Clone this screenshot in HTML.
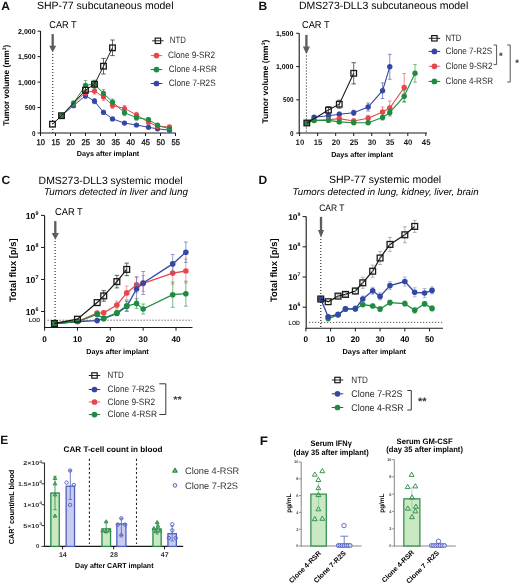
<!DOCTYPE html>
<html><head><meta charset="utf-8"><style>
html,body{margin:0;padding:0;background:#fff;}
svg{display:block;filter:blur(0.3px);font-family:"Liberation Sans", sans-serif;text-rendering:geometricPrecision;}
</style></head><body>
<svg width="520" height="584" viewBox="0 0 520 584">
<rect width="520" height="584" fill="#fff"/>
<text x="1.3" y="10.3" font-size="12" font-weight="bold" fill="#111">A</text>
<text x="36.9" y="9" font-size="10.5" textLength="136.6" lengthAdjust="spacingAndGlyphs">SHP-77 subcutaneous model</text>
<text x="49.3" y="28.2" font-size="9.9" textLength="27.4" lengthAdjust="spacingAndGlyphs">CAR T</text>
<rect x="51.55" y="34.1" width="2.3" height="12.1" fill="#5e5b58"/>
<polygon points="49.25,45.7 56.15,45.7 52.7,52.6" fill="#5e5b58"/>
<line x1="52.7" y1="54" x2="52.7" y2="133" stroke="#222" stroke-width="1.1" stroke-dasharray="1 2"/>
<line x1="40.5" y1="31" x2="40.5" y2="133.5" stroke="#1a1a1a" stroke-width="1.1"/>
<line x1="40" y1="133" x2="175.5" y2="133" stroke="#1a1a1a" stroke-width="1.1"/>
<line x1="37.5" y1="133" x2="40.5" y2="133" stroke="#1a1a1a" stroke-width="1"/>
<text x="35.6" y="135.5" font-size="7" font-weight="bold" text-anchor="end" textLength="3.5" lengthAdjust="spacingAndGlyphs">0</text>
<line x1="37.5" y1="107.55" x2="40.5" y2="107.55" stroke="#1a1a1a" stroke-width="1"/>
<text x="35.6" y="110.05" font-size="7" font-weight="bold" text-anchor="end" textLength="10.5" lengthAdjust="spacingAndGlyphs">500</text>
<line x1="37.5" y1="82.1" x2="40.5" y2="82.1" stroke="#1a1a1a" stroke-width="1"/>
<text x="35.6" y="84.6" font-size="7" font-weight="bold" text-anchor="end" textLength="17.5" lengthAdjust="spacingAndGlyphs">1,000</text>
<line x1="37.5" y1="56.65" x2="40.5" y2="56.65" stroke="#1a1a1a" stroke-width="1"/>
<text x="35.6" y="59.15" font-size="7" font-weight="bold" text-anchor="end" textLength="17.5" lengthAdjust="spacingAndGlyphs">1,500</text>
<line x1="37.5" y1="31.2" x2="40.5" y2="31.2" stroke="#1a1a1a" stroke-width="1"/>
<text x="35.6" y="33.7" font-size="7" font-weight="bold" text-anchor="end" textLength="17.5" lengthAdjust="spacingAndGlyphs">2,000</text>
<line x1="40.5" y1="133" x2="40.5" y2="136" stroke="#1a1a1a" stroke-width="1"/>
<text x="40.8" y="144.6" font-size="8.2" text-anchor="middle" textLength="8.4" lengthAdjust="spacingAndGlyphs" fill="#1a1a1a" stroke="#1a1a1a" stroke-width="0.35">10</text>
<line x1="55.5" y1="133" x2="55.5" y2="136" stroke="#1a1a1a" stroke-width="1"/>
<text x="55.8" y="144.6" font-size="8.2" text-anchor="middle" textLength="8.4" lengthAdjust="spacingAndGlyphs" fill="#1a1a1a" stroke="#1a1a1a" stroke-width="0.35">15</text>
<line x1="70.5" y1="133" x2="70.5" y2="136" stroke="#1a1a1a" stroke-width="1"/>
<text x="70.8" y="144.6" font-size="8.2" text-anchor="middle" textLength="8.4" lengthAdjust="spacingAndGlyphs" fill="#1a1a1a" stroke="#1a1a1a" stroke-width="0.35">20</text>
<line x1="85.5" y1="133" x2="85.5" y2="136" stroke="#1a1a1a" stroke-width="1"/>
<text x="85.8" y="144.6" font-size="8.2" text-anchor="middle" textLength="8.4" lengthAdjust="spacingAndGlyphs" fill="#1a1a1a" stroke="#1a1a1a" stroke-width="0.35">25</text>
<line x1="100.5" y1="133" x2="100.5" y2="136" stroke="#1a1a1a" stroke-width="1"/>
<text x="100.8" y="144.6" font-size="8.2" text-anchor="middle" textLength="8.4" lengthAdjust="spacingAndGlyphs" fill="#1a1a1a" stroke="#1a1a1a" stroke-width="0.35">30</text>
<line x1="115.5" y1="133" x2="115.5" y2="136" stroke="#1a1a1a" stroke-width="1"/>
<text x="115.8" y="144.6" font-size="8.2" text-anchor="middle" textLength="8.4" lengthAdjust="spacingAndGlyphs" fill="#1a1a1a" stroke="#1a1a1a" stroke-width="0.35">35</text>
<line x1="130.5" y1="133" x2="130.5" y2="136" stroke="#1a1a1a" stroke-width="1"/>
<text x="130.8" y="144.6" font-size="8.2" text-anchor="middle" textLength="8.4" lengthAdjust="spacingAndGlyphs" fill="#1a1a1a" stroke="#1a1a1a" stroke-width="0.35">40</text>
<line x1="145.5" y1="133" x2="145.5" y2="136" stroke="#1a1a1a" stroke-width="1"/>
<text x="145.8" y="144.6" font-size="8.2" text-anchor="middle" textLength="8.4" lengthAdjust="spacingAndGlyphs" fill="#1a1a1a" stroke="#1a1a1a" stroke-width="0.35">45</text>
<line x1="160.5" y1="133" x2="160.5" y2="136" stroke="#1a1a1a" stroke-width="1"/>
<text x="160.8" y="144.6" font-size="8.2" text-anchor="middle" textLength="8.4" lengthAdjust="spacingAndGlyphs" fill="#1a1a1a" stroke="#1a1a1a" stroke-width="0.35">50</text>
<line x1="175.5" y1="133" x2="175.5" y2="136" stroke="#1a1a1a" stroke-width="1"/>
<text x="175.8" y="144.6" font-size="8.2" text-anchor="middle" textLength="8.4" lengthAdjust="spacingAndGlyphs" fill="#1a1a1a" stroke="#1a1a1a" stroke-width="0.35">55</text>
<text x="108" y="155.8" font-size="7.2" font-weight="bold" text-anchor="middle" textLength="62.4" lengthAdjust="spacingAndGlyphs">Days after implant</text>
<text x="9.4" y="85.2" font-size="8.2" font-weight="bold" text-anchor="middle" transform="rotate(-90 9.4 85.2)">Tumor volume (mm<tspan font-size="5" dy="-3">3</tspan><tspan dy="3">)</tspan></text>
<polyline points="61.5,115.7 73.5,105.7 85.5,95.7 94.5,101.2 103.5,112.3 112.5,118.9 124.5,123.1 136.5,125 148.5,127.3 157.5,128.8 169.5,130.2" fill="none" stroke="#3447a3" stroke-width="1"/>
<g stroke="#3447a3" stroke-width="0.75" opacity="0.8">
<line x1="73.5" y1="104.2" x2="73.5" y2="107.2" stroke="#3447a3" stroke-width="0.75"/>
<line x1="71.7" y1="104.2" x2="75.3" y2="104.2" stroke="#3447a3" stroke-width="0.75"/>
<line x1="71.7" y1="107.2" x2="75.3" y2="107.2" stroke="#3447a3" stroke-width="0.75"/>
</g>
<g stroke="#3447a3" stroke-width="0.75" opacity="0.8">
<line x1="85.5" y1="92.7" x2="85.5" y2="98.7" stroke="#3447a3" stroke-width="0.75"/>
<line x1="83.7" y1="92.7" x2="87.3" y2="92.7" stroke="#3447a3" stroke-width="0.75"/>
<line x1="83.7" y1="98.7" x2="87.3" y2="98.7" stroke="#3447a3" stroke-width="0.75"/>
</g>
<g stroke="#3447a3" stroke-width="0.75" opacity="0.8">
<line x1="94.5" y1="98.7" x2="94.5" y2="103.7" stroke="#3447a3" stroke-width="0.75"/>
<line x1="92.7" y1="98.7" x2="96.3" y2="98.7" stroke="#3447a3" stroke-width="0.75"/>
<line x1="92.7" y1="103.7" x2="96.3" y2="103.7" stroke="#3447a3" stroke-width="0.75"/>
</g>
<g stroke="#3447a3" stroke-width="0.75" opacity="0.8">
<line x1="103.5" y1="110.3" x2="103.5" y2="114.3" stroke="#3447a3" stroke-width="0.75"/>
<line x1="101.7" y1="110.3" x2="105.3" y2="110.3" stroke="#3447a3" stroke-width="0.75"/>
<line x1="101.7" y1="114.3" x2="105.3" y2="114.3" stroke="#3447a3" stroke-width="0.75"/>
</g>
<g stroke="#3447a3" stroke-width="0.75" opacity="0.8">
<line x1="112.5" y1="117.4" x2="112.5" y2="120.4" stroke="#3447a3" stroke-width="0.75"/>
<line x1="110.7" y1="117.4" x2="114.3" y2="117.4" stroke="#3447a3" stroke-width="0.75"/>
<line x1="110.7" y1="120.4" x2="114.3" y2="120.4" stroke="#3447a3" stroke-width="0.75"/>
</g>
<g stroke="#3447a3" stroke-width="0.75" opacity="0.8">
<line x1="124.5" y1="121.6" x2="124.5" y2="124.6" stroke="#3447a3" stroke-width="0.75"/>
<line x1="122.7" y1="121.6" x2="126.3" y2="121.6" stroke="#3447a3" stroke-width="0.75"/>
<line x1="122.7" y1="124.6" x2="126.3" y2="124.6" stroke="#3447a3" stroke-width="0.75"/>
</g>
<g stroke="#3447a3" stroke-width="0.75" opacity="0.8">
<line x1="136.5" y1="123.8" x2="136.5" y2="126.2" stroke="#3447a3" stroke-width="0.75"/>
<line x1="134.7" y1="123.8" x2="138.3" y2="123.8" stroke="#3447a3" stroke-width="0.75"/>
<line x1="134.7" y1="126.2" x2="138.3" y2="126.2" stroke="#3447a3" stroke-width="0.75"/>
</g>
<g stroke="#3447a3" stroke-width="0.75" opacity="0.8">
<line x1="148.5" y1="126.1" x2="148.5" y2="128.5" stroke="#3447a3" stroke-width="0.75"/>
<line x1="146.7" y1="126.1" x2="150.3" y2="126.1" stroke="#3447a3" stroke-width="0.75"/>
<line x1="146.7" y1="128.5" x2="150.3" y2="128.5" stroke="#3447a3" stroke-width="0.75"/>
</g>
<g stroke="#3447a3" stroke-width="0.75" opacity="0.8">
<line x1="157.5" y1="127.8" x2="157.5" y2="129.8" stroke="#3447a3" stroke-width="0.75"/>
<line x1="155.7" y1="127.8" x2="159.3" y2="127.8" stroke="#3447a3" stroke-width="0.75"/>
<line x1="155.7" y1="129.8" x2="159.3" y2="129.8" stroke="#3447a3" stroke-width="0.75"/>
</g>
<g stroke="#3447a3" stroke-width="0.75" opacity="0.8">
<line x1="169.5" y1="129.2" x2="169.5" y2="131.2" stroke="#3447a3" stroke-width="0.75"/>
<line x1="167.7" y1="129.2" x2="171.3" y2="129.2" stroke="#3447a3" stroke-width="0.75"/>
<line x1="167.7" y1="131.2" x2="171.3" y2="131.2" stroke="#3447a3" stroke-width="0.75"/>
</g>
<circle cx="61.5" cy="115.7" r="2.6" fill="#3447a3"/>
<circle cx="73.5" cy="105.7" r="2.6" fill="#3447a3"/>
<circle cx="85.5" cy="95.7" r="2.6" fill="#3447a3"/>
<circle cx="94.5" cy="101.2" r="2.6" fill="#3447a3"/>
<circle cx="103.5" cy="112.3" r="2.6" fill="#3447a3"/>
<circle cx="112.5" cy="118.9" r="2.6" fill="#3447a3"/>
<circle cx="124.5" cy="123.1" r="2.6" fill="#3447a3"/>
<circle cx="136.5" cy="125" r="2.6" fill="#3447a3"/>
<circle cx="148.5" cy="127.3" r="2.6" fill="#3447a3"/>
<circle cx="157.5" cy="128.8" r="2.6" fill="#3447a3"/>
<circle cx="169.5" cy="130.2" r="2.6" fill="#3447a3"/>
<polyline points="61.5,115.7 73.5,103.8 85.5,92.4 94.5,91.1 103.5,96.9 112.5,105.4 124.5,108.5 136.5,114.8 148.5,122.2 157.5,126.5 169.5,126.9" fill="none" stroke="#e8464d" stroke-width="1"/>
<g stroke="#e8464d" stroke-width="0.75" opacity="0.8">
<line x1="73.5" y1="102.3" x2="73.5" y2="105.3" stroke="#e8464d" stroke-width="0.75"/>
<line x1="71.7" y1="102.3" x2="75.3" y2="102.3" stroke="#e8464d" stroke-width="0.75"/>
<line x1="71.7" y1="105.3" x2="75.3" y2="105.3" stroke="#e8464d" stroke-width="0.75"/>
</g>
<g stroke="#e8464d" stroke-width="0.75" opacity="0.8">
<line x1="85.5" y1="89.4" x2="85.5" y2="95.4" stroke="#e8464d" stroke-width="0.75"/>
<line x1="83.7" y1="89.4" x2="87.3" y2="89.4" stroke="#e8464d" stroke-width="0.75"/>
<line x1="83.7" y1="95.4" x2="87.3" y2="95.4" stroke="#e8464d" stroke-width="0.75"/>
</g>
<g stroke="#e8464d" stroke-width="0.75" opacity="0.8">
<line x1="94.5" y1="88.1" x2="94.5" y2="94.1" stroke="#e8464d" stroke-width="0.75"/>
<line x1="92.7" y1="88.1" x2="96.3" y2="88.1" stroke="#e8464d" stroke-width="0.75"/>
<line x1="92.7" y1="94.1" x2="96.3" y2="94.1" stroke="#e8464d" stroke-width="0.75"/>
</g>
<g stroke="#e8464d" stroke-width="0.75" opacity="0.8">
<line x1="103.5" y1="93.4" x2="103.5" y2="100.4" stroke="#e8464d" stroke-width="0.75"/>
<line x1="101.7" y1="93.4" x2="105.3" y2="93.4" stroke="#e8464d" stroke-width="0.75"/>
<line x1="101.7" y1="100.4" x2="105.3" y2="100.4" stroke="#e8464d" stroke-width="0.75"/>
</g>
<g stroke="#e8464d" stroke-width="0.75" opacity="0.8">
<line x1="112.5" y1="102.4" x2="112.5" y2="108.4" stroke="#e8464d" stroke-width="0.75"/>
<line x1="110.7" y1="102.4" x2="114.3" y2="102.4" stroke="#e8464d" stroke-width="0.75"/>
<line x1="110.7" y1="108.4" x2="114.3" y2="108.4" stroke="#e8464d" stroke-width="0.75"/>
</g>
<g stroke="#e8464d" stroke-width="0.75" opacity="0.8">
<line x1="124.5" y1="105.5" x2="124.5" y2="111.5" stroke="#e8464d" stroke-width="0.75"/>
<line x1="122.7" y1="105.5" x2="126.3" y2="105.5" stroke="#e8464d" stroke-width="0.75"/>
<line x1="122.7" y1="111.5" x2="126.3" y2="111.5" stroke="#e8464d" stroke-width="0.75"/>
</g>
<g stroke="#e8464d" stroke-width="0.75" opacity="0.8">
<line x1="136.5" y1="112.3" x2="136.5" y2="117.3" stroke="#e8464d" stroke-width="0.75"/>
<line x1="134.7" y1="112.3" x2="138.3" y2="112.3" stroke="#e8464d" stroke-width="0.75"/>
<line x1="134.7" y1="117.3" x2="138.3" y2="117.3" stroke="#e8464d" stroke-width="0.75"/>
</g>
<g stroke="#e8464d" stroke-width="0.75" opacity="0.8">
<line x1="148.5" y1="120.2" x2="148.5" y2="124.2" stroke="#e8464d" stroke-width="0.75"/>
<line x1="146.7" y1="120.2" x2="150.3" y2="120.2" stroke="#e8464d" stroke-width="0.75"/>
<line x1="146.7" y1="124.2" x2="150.3" y2="124.2" stroke="#e8464d" stroke-width="0.75"/>
</g>
<g stroke="#e8464d" stroke-width="0.75" opacity="0.8">
<line x1="157.5" y1="125" x2="157.5" y2="128" stroke="#e8464d" stroke-width="0.75"/>
<line x1="155.7" y1="125" x2="159.3" y2="125" stroke="#e8464d" stroke-width="0.75"/>
<line x1="155.7" y1="128" x2="159.3" y2="128" stroke="#e8464d" stroke-width="0.75"/>
</g>
<g stroke="#e8464d" stroke-width="0.75" opacity="0.8">
<line x1="169.5" y1="125.4" x2="169.5" y2="128.4" stroke="#e8464d" stroke-width="0.75"/>
<line x1="167.7" y1="125.4" x2="171.3" y2="125.4" stroke="#e8464d" stroke-width="0.75"/>
<line x1="167.7" y1="128.4" x2="171.3" y2="128.4" stroke="#e8464d" stroke-width="0.75"/>
</g>
<circle cx="61.5" cy="115.7" r="2.6" fill="#e8464d"/>
<circle cx="73.5" cy="103.8" r="2.6" fill="#e8464d"/>
<circle cx="85.5" cy="92.4" r="2.6" fill="#e8464d"/>
<circle cx="94.5" cy="91.1" r="2.6" fill="#e8464d"/>
<circle cx="103.5" cy="96.9" r="2.6" fill="#e8464d"/>
<circle cx="112.5" cy="105.4" r="2.6" fill="#e8464d"/>
<circle cx="124.5" cy="108.5" r="2.6" fill="#e8464d"/>
<circle cx="136.5" cy="114.8" r="2.6" fill="#e8464d"/>
<circle cx="148.5" cy="122.2" r="2.6" fill="#e8464d"/>
<circle cx="157.5" cy="126.5" r="2.6" fill="#e8464d"/>
<circle cx="169.5" cy="126.9" r="2.6" fill="#e8464d"/>
<polyline points="61.5,115.7 73.5,103.1 85.5,85.4 94.5,84.2 103.5,93.4 112.5,102 124.5,112.7 136.5,117.7 148.5,119.6 157.5,125.2 169.5,128.9" fill="none" stroke="#1e8c40" stroke-width="1"/>
<g stroke="#1e8c40" stroke-width="0.75" opacity="0.8">
<line x1="73.5" y1="101.1" x2="73.5" y2="105.1" stroke="#1e8c40" stroke-width="0.75"/>
<line x1="71.7" y1="101.1" x2="75.3" y2="101.1" stroke="#1e8c40" stroke-width="0.75"/>
<line x1="71.7" y1="105.1" x2="75.3" y2="105.1" stroke="#1e8c40" stroke-width="0.75"/>
</g>
<g stroke="#1e8c40" stroke-width="0.75" opacity="0.8">
<line x1="85.5" y1="80.4" x2="85.5" y2="90.4" stroke="#1e8c40" stroke-width="0.75"/>
<line x1="83.7" y1="80.4" x2="87.3" y2="80.4" stroke="#1e8c40" stroke-width="0.75"/>
<line x1="83.7" y1="90.4" x2="87.3" y2="90.4" stroke="#1e8c40" stroke-width="0.75"/>
</g>
<g stroke="#1e8c40" stroke-width="0.75" opacity="0.8">
<line x1="94.5" y1="80.2" x2="94.5" y2="88.2" stroke="#1e8c40" stroke-width="0.75"/>
<line x1="92.7" y1="80.2" x2="96.3" y2="80.2" stroke="#1e8c40" stroke-width="0.75"/>
<line x1="92.7" y1="88.2" x2="96.3" y2="88.2" stroke="#1e8c40" stroke-width="0.75"/>
</g>
<g stroke="#1e8c40" stroke-width="0.75" opacity="0.8">
<line x1="103.5" y1="89.4" x2="103.5" y2="97.4" stroke="#1e8c40" stroke-width="0.75"/>
<line x1="101.7" y1="89.4" x2="105.3" y2="89.4" stroke="#1e8c40" stroke-width="0.75"/>
<line x1="101.7" y1="97.4" x2="105.3" y2="97.4" stroke="#1e8c40" stroke-width="0.75"/>
</g>
<g stroke="#1e8c40" stroke-width="0.75" opacity="0.8">
<line x1="112.5" y1="99" x2="112.5" y2="105" stroke="#1e8c40" stroke-width="0.75"/>
<line x1="110.7" y1="99" x2="114.3" y2="99" stroke="#1e8c40" stroke-width="0.75"/>
<line x1="110.7" y1="105" x2="114.3" y2="105" stroke="#1e8c40" stroke-width="0.75"/>
</g>
<g stroke="#1e8c40" stroke-width="0.75" opacity="0.8">
<line x1="124.5" y1="109.7" x2="124.5" y2="115.7" stroke="#1e8c40" stroke-width="0.75"/>
<line x1="122.7" y1="109.7" x2="126.3" y2="109.7" stroke="#1e8c40" stroke-width="0.75"/>
<line x1="122.7" y1="115.7" x2="126.3" y2="115.7" stroke="#1e8c40" stroke-width="0.75"/>
</g>
<g stroke="#1e8c40" stroke-width="0.75" opacity="0.8">
<line x1="136.5" y1="115.2" x2="136.5" y2="120.2" stroke="#1e8c40" stroke-width="0.75"/>
<line x1="134.7" y1="115.2" x2="138.3" y2="115.2" stroke="#1e8c40" stroke-width="0.75"/>
<line x1="134.7" y1="120.2" x2="138.3" y2="120.2" stroke="#1e8c40" stroke-width="0.75"/>
</g>
<g stroke="#1e8c40" stroke-width="0.75" opacity="0.8">
<line x1="148.5" y1="117.6" x2="148.5" y2="121.6" stroke="#1e8c40" stroke-width="0.75"/>
<line x1="146.7" y1="117.6" x2="150.3" y2="117.6" stroke="#1e8c40" stroke-width="0.75"/>
<line x1="146.7" y1="121.6" x2="150.3" y2="121.6" stroke="#1e8c40" stroke-width="0.75"/>
</g>
<g stroke="#1e8c40" stroke-width="0.75" opacity="0.8">
<line x1="157.5" y1="123.7" x2="157.5" y2="126.7" stroke="#1e8c40" stroke-width="0.75"/>
<line x1="155.7" y1="123.7" x2="159.3" y2="123.7" stroke="#1e8c40" stroke-width="0.75"/>
<line x1="155.7" y1="126.7" x2="159.3" y2="126.7" stroke="#1e8c40" stroke-width="0.75"/>
</g>
<g stroke="#1e8c40" stroke-width="0.75" opacity="0.8">
<line x1="169.5" y1="127.4" x2="169.5" y2="130.4" stroke="#1e8c40" stroke-width="0.75"/>
<line x1="167.7" y1="127.4" x2="171.3" y2="127.4" stroke="#1e8c40" stroke-width="0.75"/>
<line x1="167.7" y1="130.4" x2="171.3" y2="130.4" stroke="#1e8c40" stroke-width="0.75"/>
</g>
<circle cx="61.5" cy="115.7" r="2.6" fill="#1e8c40"/>
<circle cx="73.5" cy="103.1" r="2.6" fill="#1e8c40"/>
<circle cx="85.5" cy="85.4" r="2.6" fill="#1e8c40"/>
<circle cx="94.5" cy="84.2" r="2.6" fill="#1e8c40"/>
<circle cx="103.5" cy="93.4" r="2.6" fill="#1e8c40"/>
<circle cx="112.5" cy="102" r="2.6" fill="#1e8c40"/>
<circle cx="124.5" cy="112.7" r="2.6" fill="#1e8c40"/>
<circle cx="136.5" cy="117.7" r="2.6" fill="#1e8c40"/>
<circle cx="148.5" cy="119.6" r="2.6" fill="#1e8c40"/>
<circle cx="157.5" cy="125.2" r="2.6" fill="#1e8c40"/>
<circle cx="169.5" cy="128.9" r="2.6" fill="#1e8c40"/>
<polyline points="52.5,124.2 61.5,115.7 85.5,90.2 94.5,84.2 103.5,66.2 112.5,47.8" fill="none" stroke="#1a1a1a" stroke-width="1"/>
<g stroke="#333" stroke-width="0.75">
<line x1="85.5" y1="87.2" x2="85.5" y2="93.2" stroke="#333" stroke-width="0.75"/>
<line x1="83.25" y1="87.2" x2="87.75" y2="87.2" stroke="#333" stroke-width="0.75"/>
<line x1="83.25" y1="93.2" x2="87.75" y2="93.2" stroke="#333" stroke-width="0.75"/>
</g>
<g stroke="#333" stroke-width="0.75">
<line x1="94.5" y1="81.2" x2="94.5" y2="87.2" stroke="#333" stroke-width="0.75"/>
<line x1="92.25" y1="81.2" x2="96.75" y2="81.2" stroke="#333" stroke-width="0.75"/>
<line x1="92.25" y1="87.2" x2="96.75" y2="87.2" stroke="#333" stroke-width="0.75"/>
</g>
<g stroke="#333" stroke-width="0.75">
<line x1="103.5" y1="58.4" x2="103.5" y2="74" stroke="#333" stroke-width="0.75"/>
<line x1="101.25" y1="58.4" x2="105.75" y2="58.4" stroke="#333" stroke-width="0.75"/>
<line x1="101.25" y1="74" x2="105.75" y2="74" stroke="#333" stroke-width="0.75"/>
</g>
<g stroke="#333" stroke-width="0.75">
<line x1="112.5" y1="40" x2="112.5" y2="55.6" stroke="#333" stroke-width="0.75"/>
<line x1="110.25" y1="40" x2="114.75" y2="40" stroke="#333" stroke-width="0.75"/>
<line x1="110.25" y1="55.6" x2="114.75" y2="55.6" stroke="#333" stroke-width="0.75"/>
</g>
<rect x="49.7" y="121.4" width="5.6" height="5.6" fill="none" stroke="#1a1a1a" stroke-width="1.3"/>
<rect x="58.7" y="112.9" width="5.6" height="5.6" fill="none" stroke="#1a1a1a" stroke-width="1.3"/>
<rect x="82.7" y="87.4" width="5.6" height="5.6" fill="none" stroke="#1a1a1a" stroke-width="1.3"/>
<rect x="91.7" y="81.4" width="5.6" height="5.6" fill="none" stroke="#1a1a1a" stroke-width="1.3"/>
<rect x="100.7" y="63.4" width="5.6" height="5.6" fill="none" stroke="#1a1a1a" stroke-width="1.3"/>
<rect x="109.7" y="45" width="5.6" height="5.6" fill="none" stroke="#1a1a1a" stroke-width="1.3"/>
<line x1="152.15" y1="40.8" x2="163.65" y2="40.8" stroke="#1a1a1a" stroke-width="0.95"/>
<rect x="155.2" y="38.1" width="5.4" height="5.4" fill="none" stroke="#1a1a1a" stroke-width="1.2"/>
<text x="169.8" y="43.45" font-size="9.2" textLength="16" lengthAdjust="spacingAndGlyphs" fill="#2a2a2a">NTD</text>
<line x1="150.75" y1="55.6" x2="162.25" y2="55.6" stroke="#d85a68" stroke-width="0.95"/>
<circle cx="156.5" cy="55.6" r="2.85" fill="#e8464d"/>
<text x="168" y="58.25" font-size="9.2" textLength="47" lengthAdjust="spacingAndGlyphs" fill="#2a2a2a">Clone 9-SR2</text>
<line x1="150.75" y1="69.6" x2="162.25" y2="69.6" stroke="#1d5c32" stroke-width="0.95"/>
<circle cx="156.5" cy="69.6" r="2.85" fill="#1e8c40"/>
<text x="168.8" y="72.25" font-size="9.2" textLength="48" lengthAdjust="spacingAndGlyphs" fill="#2a2a2a">Clone 4-RSR</text>
<line x1="150.75" y1="83.5" x2="162.25" y2="83.5" stroke="#26306e" stroke-width="0.95"/>
<circle cx="156.5" cy="83.5" r="2.85" fill="#3447a3"/>
<text x="168.8" y="86.15" font-size="9.2" textLength="46.8" lengthAdjust="spacingAndGlyphs" fill="#2a2a2a">Clone 7-R2S</text>
<text x="258.6" y="10.2" font-size="12" font-weight="bold" fill="#111">B</text>
<text x="298.9" y="9" font-size="10.5" textLength="169.4" lengthAdjust="spacingAndGlyphs">DMS273-DLL3 subcutaneous model</text>
<text x="302" y="28.2" font-size="9.9" textLength="27.6" lengthAdjust="spacingAndGlyphs">CAR T</text>
<rect x="305.25" y="34.9" width="2.3" height="12.1" fill="#5e5b58"/>
<polygon points="302.9,46.5 309.9,46.5 306.4,54.2" fill="#5e5b58"/>
<line x1="306.4" y1="55.5" x2="306.4" y2="133" stroke="#222" stroke-width="1.1" stroke-dasharray="1 2"/>
<line x1="299.2" y1="33.3" x2="299.2" y2="133.5" stroke="#1a1a1a" stroke-width="1.1"/>
<line x1="298.7" y1="133" x2="427" y2="133" stroke="#1a1a1a" stroke-width="1.1"/>
<line x1="296.2" y1="133.1" x2="299.2" y2="133.1" stroke="#1a1a1a" stroke-width="1"/>
<text x="293.4" y="135.6" font-size="7" font-weight="bold" text-anchor="end" textLength="3.5" lengthAdjust="spacingAndGlyphs">0</text>
<line x1="296.2" y1="99.83" x2="299.2" y2="99.83" stroke="#1a1a1a" stroke-width="1"/>
<text x="293.4" y="102.33" font-size="7" font-weight="bold" text-anchor="end" textLength="10.5" lengthAdjust="spacingAndGlyphs">500</text>
<line x1="296.2" y1="66.56" x2="299.2" y2="66.56" stroke="#1a1a1a" stroke-width="1"/>
<text x="293.4" y="69.06" font-size="7" font-weight="bold" text-anchor="end" textLength="17.5" lengthAdjust="spacingAndGlyphs">1,000</text>
<line x1="296.2" y1="33.29" x2="299.2" y2="33.29" stroke="#1a1a1a" stroke-width="1"/>
<text x="293.4" y="35.79" font-size="7" font-weight="bold" text-anchor="end" textLength="17.5" lengthAdjust="spacingAndGlyphs">1,500</text>
<line x1="299.6" y1="133" x2="299.6" y2="136" stroke="#1a1a1a" stroke-width="1"/>
<text x="299.9" y="144.6" font-size="8" font-weight="bold" text-anchor="middle" textLength="8.6" lengthAdjust="spacingAndGlyphs" fill="#1a1a1a">10</text>
<line x1="317.64" y1="133" x2="317.64" y2="136" stroke="#1a1a1a" stroke-width="1"/>
<text x="317.94" y="144.6" font-size="8" font-weight="bold" text-anchor="middle" textLength="8.6" lengthAdjust="spacingAndGlyphs" fill="#1a1a1a">15</text>
<line x1="335.67" y1="133" x2="335.67" y2="136" stroke="#1a1a1a" stroke-width="1"/>
<text x="335.97" y="144.6" font-size="8" font-weight="bold" text-anchor="middle" textLength="8.6" lengthAdjust="spacingAndGlyphs" fill="#1a1a1a">20</text>
<line x1="353.71" y1="133" x2="353.71" y2="136" stroke="#1a1a1a" stroke-width="1"/>
<text x="354.01" y="144.6" font-size="8" font-weight="bold" text-anchor="middle" textLength="8.6" lengthAdjust="spacingAndGlyphs" fill="#1a1a1a">25</text>
<line x1="371.74" y1="133" x2="371.74" y2="136" stroke="#1a1a1a" stroke-width="1"/>
<text x="372.04" y="144.6" font-size="8" font-weight="bold" text-anchor="middle" textLength="8.6" lengthAdjust="spacingAndGlyphs" fill="#1a1a1a">30</text>
<line x1="389.78" y1="133" x2="389.78" y2="136" stroke="#1a1a1a" stroke-width="1"/>
<text x="390.08" y="144.6" font-size="8" font-weight="bold" text-anchor="middle" textLength="8.6" lengthAdjust="spacingAndGlyphs" fill="#1a1a1a">35</text>
<line x1="407.81" y1="133" x2="407.81" y2="136" stroke="#1a1a1a" stroke-width="1"/>
<text x="408.11" y="144.6" font-size="8" font-weight="bold" text-anchor="middle" textLength="8.6" lengthAdjust="spacingAndGlyphs" fill="#1a1a1a">40</text>
<line x1="425.85" y1="133" x2="425.85" y2="136" stroke="#1a1a1a" stroke-width="1"/>
<text x="426.15" y="144.6" font-size="8" font-weight="bold" text-anchor="middle" textLength="8.6" lengthAdjust="spacingAndGlyphs" fill="#1a1a1a">45</text>
<text x="362.2" y="157" font-size="7.2" font-weight="bold" text-anchor="middle" textLength="62" lengthAdjust="spacingAndGlyphs">Days after implant</text>
<text x="267.9" y="81.6" font-size="8.2" font-weight="bold" text-anchor="middle" textLength="84" lengthAdjust="spacingAndGlyphs" transform="rotate(-90 267.9 81.6)">Tumor volume (mm<tspan font-size="5" dy="-3">3</tspan><tspan dy="3">)</tspan></text>
<polyline points="306.81,123 314.03,117.3 328.46,115.8 339.28,114.2 353.71,112.7 368.13,107 382.56,90.7 389.78,66.8" fill="none" stroke="#3447a3" stroke-width="1.1"/>
<g stroke="#3447a3" stroke-width="0.75" opacity="0.8">
<line x1="314.03" y1="116.1" x2="314.03" y2="118.5" stroke="#3447a3" stroke-width="0.75"/>
<line x1="312.23" y1="116.1" x2="315.83" y2="116.1" stroke="#3447a3" stroke-width="0.75"/>
<line x1="312.23" y1="118.5" x2="315.83" y2="118.5" stroke="#3447a3" stroke-width="0.75"/>
</g>
<g stroke="#3447a3" stroke-width="0.75" opacity="0.8">
<line x1="328.46" y1="114.3" x2="328.46" y2="117.3" stroke="#3447a3" stroke-width="0.75"/>
<line x1="326.66" y1="114.3" x2="330.26" y2="114.3" stroke="#3447a3" stroke-width="0.75"/>
<line x1="326.66" y1="117.3" x2="330.26" y2="117.3" stroke="#3447a3" stroke-width="0.75"/>
</g>
<g stroke="#3447a3" stroke-width="0.75" opacity="0.8">
<line x1="339.28" y1="112.2" x2="339.28" y2="116.2" stroke="#3447a3" stroke-width="0.75"/>
<line x1="337.48" y1="112.2" x2="341.08" y2="112.2" stroke="#3447a3" stroke-width="0.75"/>
<line x1="337.48" y1="116.2" x2="341.08" y2="116.2" stroke="#3447a3" stroke-width="0.75"/>
</g>
<g stroke="#3447a3" stroke-width="0.75" opacity="0.8">
<line x1="353.71" y1="110.2" x2="353.71" y2="115.2" stroke="#3447a3" stroke-width="0.75"/>
<line x1="351.91" y1="110.2" x2="355.51" y2="110.2" stroke="#3447a3" stroke-width="0.75"/>
<line x1="351.91" y1="115.2" x2="355.51" y2="115.2" stroke="#3447a3" stroke-width="0.75"/>
</g>
<g stroke="#3447a3" stroke-width="0.75" opacity="0.8">
<line x1="368.13" y1="103" x2="368.13" y2="111" stroke="#3447a3" stroke-width="0.75"/>
<line x1="366.33" y1="103" x2="369.93" y2="103" stroke="#3447a3" stroke-width="0.75"/>
<line x1="366.33" y1="111" x2="369.93" y2="111" stroke="#3447a3" stroke-width="0.75"/>
</g>
<g stroke="#3447a3" stroke-width="0.75" opacity="0.8">
<line x1="382.56" y1="82.9" x2="382.56" y2="98.5" stroke="#3447a3" stroke-width="0.75"/>
<line x1="380.76" y1="82.9" x2="384.36" y2="82.9" stroke="#3447a3" stroke-width="0.75"/>
<line x1="380.76" y1="98.5" x2="384.36" y2="98.5" stroke="#3447a3" stroke-width="0.75"/>
</g>
<g stroke="#3447a3" stroke-width="0.75" opacity="0.8">
<line x1="389.78" y1="54.3" x2="389.78" y2="79.3" stroke="#3447a3" stroke-width="0.75"/>
<line x1="387.98" y1="54.3" x2="391.58" y2="54.3" stroke="#3447a3" stroke-width="0.75"/>
<line x1="387.98" y1="79.3" x2="391.58" y2="79.3" stroke="#3447a3" stroke-width="0.75"/>
</g>
<circle cx="306.81" cy="123" r="2.7" fill="#3447a3"/>
<circle cx="314.03" cy="117.3" r="2.7" fill="#3447a3"/>
<circle cx="328.46" cy="115.8" r="2.7" fill="#3447a3"/>
<circle cx="339.28" cy="114.2" r="2.7" fill="#3447a3"/>
<circle cx="353.71" cy="112.7" r="2.7" fill="#3447a3"/>
<circle cx="368.13" cy="107" r="2.7" fill="#3447a3"/>
<circle cx="382.56" cy="90.7" r="2.7" fill="#3447a3"/>
<circle cx="389.78" cy="66.8" r="2.7" fill="#3447a3"/>
<polyline points="306.81,123 314.03,120.6 328.46,119.8 339.28,118.6 353.71,121 368.13,118.3 382.56,112 389.78,108 404.2,87.5" fill="none" stroke="#e8464d" stroke-width="1.1"/>
<g stroke="#e8464d" stroke-width="0.75" opacity="0.8">
<line x1="314.03" y1="119.6" x2="314.03" y2="121.6" stroke="#e8464d" stroke-width="0.75"/>
<line x1="312.23" y1="119.6" x2="315.83" y2="119.6" stroke="#e8464d" stroke-width="0.75"/>
<line x1="312.23" y1="121.6" x2="315.83" y2="121.6" stroke="#e8464d" stroke-width="0.75"/>
</g>
<g stroke="#e8464d" stroke-width="0.75" opacity="0.8">
<line x1="328.46" y1="118.3" x2="328.46" y2="121.3" stroke="#e8464d" stroke-width="0.75"/>
<line x1="326.66" y1="118.3" x2="330.26" y2="118.3" stroke="#e8464d" stroke-width="0.75"/>
<line x1="326.66" y1="121.3" x2="330.26" y2="121.3" stroke="#e8464d" stroke-width="0.75"/>
</g>
<g stroke="#e8464d" stroke-width="0.75" opacity="0.8">
<line x1="339.28" y1="116.6" x2="339.28" y2="120.6" stroke="#e8464d" stroke-width="0.75"/>
<line x1="337.48" y1="116.6" x2="341.08" y2="116.6" stroke="#e8464d" stroke-width="0.75"/>
<line x1="337.48" y1="120.6" x2="341.08" y2="120.6" stroke="#e8464d" stroke-width="0.75"/>
</g>
<g stroke="#e8464d" stroke-width="0.75" opacity="0.8">
<line x1="353.71" y1="119" x2="353.71" y2="123" stroke="#e8464d" stroke-width="0.75"/>
<line x1="351.91" y1="119" x2="355.51" y2="119" stroke="#e8464d" stroke-width="0.75"/>
<line x1="351.91" y1="123" x2="355.51" y2="123" stroke="#e8464d" stroke-width="0.75"/>
</g>
<g stroke="#e8464d" stroke-width="0.75" opacity="0.8">
<line x1="368.13" y1="115.3" x2="368.13" y2="121.3" stroke="#e8464d" stroke-width="0.75"/>
<line x1="366.33" y1="115.3" x2="369.93" y2="115.3" stroke="#e8464d" stroke-width="0.75"/>
<line x1="366.33" y1="121.3" x2="369.93" y2="121.3" stroke="#e8464d" stroke-width="0.75"/>
</g>
<g stroke="#e8464d" stroke-width="0.75" opacity="0.8">
<line x1="382.56" y1="107" x2="382.56" y2="117" stroke="#e8464d" stroke-width="0.75"/>
<line x1="380.76" y1="107" x2="384.36" y2="107" stroke="#e8464d" stroke-width="0.75"/>
<line x1="380.76" y1="117" x2="384.36" y2="117" stroke="#e8464d" stroke-width="0.75"/>
</g>
<g stroke="#e8464d" stroke-width="0.75" opacity="0.8">
<line x1="389.78" y1="101" x2="389.78" y2="115" stroke="#e8464d" stroke-width="0.75"/>
<line x1="387.98" y1="101" x2="391.58" y2="101" stroke="#e8464d" stroke-width="0.75"/>
<line x1="387.98" y1="115" x2="391.58" y2="115" stroke="#e8464d" stroke-width="0.75"/>
</g>
<g stroke="#e8464d" stroke-width="0.75" opacity="0.8">
<line x1="404.2" y1="73.5" x2="404.2" y2="101.5" stroke="#e8464d" stroke-width="0.75"/>
<line x1="402.4" y1="73.5" x2="406" y2="73.5" stroke="#e8464d" stroke-width="0.75"/>
<line x1="402.4" y1="101.5" x2="406" y2="101.5" stroke="#e8464d" stroke-width="0.75"/>
</g>
<circle cx="306.81" cy="123" r="2.7" fill="#e8464d"/>
<circle cx="314.03" cy="120.6" r="2.7" fill="#e8464d"/>
<circle cx="328.46" cy="119.8" r="2.7" fill="#e8464d"/>
<circle cx="339.28" cy="118.6" r="2.7" fill="#e8464d"/>
<circle cx="353.71" cy="121" r="2.7" fill="#e8464d"/>
<circle cx="368.13" cy="118.3" r="2.7" fill="#e8464d"/>
<circle cx="382.56" cy="112" r="2.7" fill="#e8464d"/>
<circle cx="389.78" cy="108" r="2.7" fill="#e8464d"/>
<circle cx="404.2" cy="87.5" r="2.7" fill="#e8464d"/>
<polyline points="306.81,123 314.03,120.4 328.46,120.4 339.28,121.9 353.71,122.7 368.13,122.7 382.56,117.5 389.78,112.5 404.2,96.2 415.02,73.3" fill="none" stroke="#1e8c40" stroke-width="1.1"/>
<g stroke="#1e8c40" stroke-width="0.75" opacity="0.8">
<line x1="314.03" y1="119.4" x2="314.03" y2="121.4" stroke="#1e8c40" stroke-width="0.75"/>
<line x1="312.23" y1="119.4" x2="315.83" y2="119.4" stroke="#1e8c40" stroke-width="0.75"/>
<line x1="312.23" y1="121.4" x2="315.83" y2="121.4" stroke="#1e8c40" stroke-width="0.75"/>
</g>
<g stroke="#1e8c40" stroke-width="0.75" opacity="0.8">
<line x1="328.46" y1="119.4" x2="328.46" y2="121.4" stroke="#1e8c40" stroke-width="0.75"/>
<line x1="326.66" y1="119.4" x2="330.26" y2="119.4" stroke="#1e8c40" stroke-width="0.75"/>
<line x1="326.66" y1="121.4" x2="330.26" y2="121.4" stroke="#1e8c40" stroke-width="0.75"/>
</g>
<g stroke="#1e8c40" stroke-width="0.75" opacity="0.8">
<line x1="339.28" y1="120.4" x2="339.28" y2="123.4" stroke="#1e8c40" stroke-width="0.75"/>
<line x1="337.48" y1="120.4" x2="341.08" y2="120.4" stroke="#1e8c40" stroke-width="0.75"/>
<line x1="337.48" y1="123.4" x2="341.08" y2="123.4" stroke="#1e8c40" stroke-width="0.75"/>
</g>
<g stroke="#1e8c40" stroke-width="0.75" opacity="0.8">
<line x1="353.71" y1="121.2" x2="353.71" y2="124.2" stroke="#1e8c40" stroke-width="0.75"/>
<line x1="351.91" y1="121.2" x2="355.51" y2="121.2" stroke="#1e8c40" stroke-width="0.75"/>
<line x1="351.91" y1="124.2" x2="355.51" y2="124.2" stroke="#1e8c40" stroke-width="0.75"/>
</g>
<g stroke="#1e8c40" stroke-width="0.75" opacity="0.8">
<line x1="368.13" y1="121.2" x2="368.13" y2="124.2" stroke="#1e8c40" stroke-width="0.75"/>
<line x1="366.33" y1="121.2" x2="369.93" y2="121.2" stroke="#1e8c40" stroke-width="0.75"/>
<line x1="366.33" y1="124.2" x2="369.93" y2="124.2" stroke="#1e8c40" stroke-width="0.75"/>
</g>
<g stroke="#1e8c40" stroke-width="0.75" opacity="0.8">
<line x1="382.56" y1="115" x2="382.56" y2="120" stroke="#1e8c40" stroke-width="0.75"/>
<line x1="380.76" y1="115" x2="384.36" y2="115" stroke="#1e8c40" stroke-width="0.75"/>
<line x1="380.76" y1="120" x2="384.36" y2="120" stroke="#1e8c40" stroke-width="0.75"/>
</g>
<g stroke="#1e8c40" stroke-width="0.75" opacity="0.8">
<line x1="389.78" y1="109" x2="389.78" y2="116" stroke="#1e8c40" stroke-width="0.75"/>
<line x1="387.98" y1="109" x2="391.58" y2="109" stroke="#1e8c40" stroke-width="0.75"/>
<line x1="387.98" y1="116" x2="391.58" y2="116" stroke="#1e8c40" stroke-width="0.75"/>
</g>
<g stroke="#1e8c40" stroke-width="0.75" opacity="0.8">
<line x1="404.2" y1="90.2" x2="404.2" y2="102.2" stroke="#1e8c40" stroke-width="0.75"/>
<line x1="402.4" y1="90.2" x2="406" y2="90.2" stroke="#1e8c40" stroke-width="0.75"/>
<line x1="402.4" y1="102.2" x2="406" y2="102.2" stroke="#1e8c40" stroke-width="0.75"/>
</g>
<g stroke="#1e8c40" stroke-width="0.75" opacity="0.8">
<line x1="415.02" y1="64.4" x2="415.02" y2="82.2" stroke="#1e8c40" stroke-width="0.75"/>
<line x1="413.22" y1="64.4" x2="416.82" y2="64.4" stroke="#1e8c40" stroke-width="0.75"/>
<line x1="413.22" y1="82.2" x2="416.82" y2="82.2" stroke="#1e8c40" stroke-width="0.75"/>
</g>
<circle cx="306.81" cy="123" r="2.7" fill="#1e8c40"/>
<circle cx="314.03" cy="120.4" r="2.7" fill="#1e8c40"/>
<circle cx="328.46" cy="120.4" r="2.7" fill="#1e8c40"/>
<circle cx="339.28" cy="121.9" r="2.7" fill="#1e8c40"/>
<circle cx="353.71" cy="122.7" r="2.7" fill="#1e8c40"/>
<circle cx="368.13" cy="122.7" r="2.7" fill="#1e8c40"/>
<circle cx="382.56" cy="117.5" r="2.7" fill="#1e8c40"/>
<circle cx="389.78" cy="112.5" r="2.7" fill="#1e8c40"/>
<circle cx="404.2" cy="96.2" r="2.7" fill="#1e8c40"/>
<circle cx="415.02" cy="73.3" r="2.7" fill="#1e8c40"/>
<polyline points="306.81,123 328.46,110.1 339.28,104.2 353.71,73.3" fill="none" stroke="#1a1a1a" stroke-width="1.1"/>
<g stroke="#333" stroke-width="0.75">
<line x1="328.46" y1="106.6" x2="328.46" y2="113.6" stroke="#333" stroke-width="0.75"/>
<line x1="326.21" y1="106.6" x2="330.71" y2="106.6" stroke="#333" stroke-width="0.75"/>
<line x1="326.21" y1="113.6" x2="330.71" y2="113.6" stroke="#333" stroke-width="0.75"/>
</g>
<g stroke="#333" stroke-width="0.75">
<line x1="339.28" y1="100.2" x2="339.28" y2="108.2" stroke="#333" stroke-width="0.75"/>
<line x1="337.03" y1="100.2" x2="341.53" y2="100.2" stroke="#333" stroke-width="0.75"/>
<line x1="337.03" y1="108.2" x2="341.53" y2="108.2" stroke="#333" stroke-width="0.75"/>
</g>
<g stroke="#333" stroke-width="0.75">
<line x1="353.71" y1="62.7" x2="353.71" y2="83.9" stroke="#333" stroke-width="0.75"/>
<line x1="351.46" y1="62.7" x2="355.96" y2="62.7" stroke="#333" stroke-width="0.75"/>
<line x1="351.46" y1="83.9" x2="355.96" y2="83.9" stroke="#333" stroke-width="0.75"/>
</g>
<rect x="304.01" y="120.2" width="5.6" height="5.6" fill="none" stroke="#1a1a1a" stroke-width="1.3"/>
<rect x="325.66" y="107.3" width="5.6" height="5.6" fill="none" stroke="#1a1a1a" stroke-width="1.3"/>
<rect x="336.48" y="101.4" width="5.6" height="5.6" fill="none" stroke="#1a1a1a" stroke-width="1.3"/>
<rect x="350.91" y="70.5" width="5.6" height="5.6" fill="none" stroke="#1a1a1a" stroke-width="1.3"/>
<line x1="428.65" y1="38.3" x2="440.15" y2="38.3" stroke="#1a1a1a" stroke-width="0.95"/>
<rect x="431.7" y="35.6" width="5.4" height="5.4" fill="none" stroke="#1a1a1a" stroke-width="1.2"/>
<text x="445.6" y="40.95" font-size="9.2" textLength="15.7" lengthAdjust="spacingAndGlyphs" fill="#2a2a2a">NTD</text>
<line x1="428.65" y1="51.4" x2="440.15" y2="51.4" stroke="#26306e" stroke-width="0.95"/>
<circle cx="434.4" cy="51.4" r="2.85" fill="#3447a3"/>
<text x="445.6" y="54.05" font-size="9.2" textLength="46.5" lengthAdjust="spacingAndGlyphs" fill="#2a2a2a">Clone 7-R2S</text>
<line x1="428.65" y1="66.3" x2="440.15" y2="66.3" stroke="#d85a68" stroke-width="0.95"/>
<circle cx="434.4" cy="66.3" r="2.85" fill="#e8464d"/>
<text x="445.6" y="68.95" font-size="9.2" textLength="47" lengthAdjust="spacingAndGlyphs" fill="#2a2a2a">Clone 9-SR2</text>
<line x1="428.65" y1="81.4" x2="440.15" y2="81.4" stroke="#1d5c32" stroke-width="0.95"/>
<circle cx="434.4" cy="81.4" r="2.85" fill="#1e8c40"/>
<text x="445.6" y="84.05" font-size="9.2" textLength="47.5" lengthAdjust="spacingAndGlyphs" fill="#2a2a2a">Clone 4-RSR</text>
<polyline points="493.6,45 496.6,45 496.6,64.6 493.6,64.6" fill="none" stroke="#555" stroke-width="1"/>
<polyline points="507.2,45 510.2,45 510.2,82 507.2,82" fill="none" stroke="#555" stroke-width="1"/>
<text x="500.9" y="58.6" font-size="9.5" font-weight="bold" text-anchor="middle" fill="#333">*</text>
<text x="517.2" y="65.9" font-size="9.5" font-weight="bold" text-anchor="middle" fill="#333">*</text>
<text x="1.5" y="183.8" font-size="12" font-weight="bold" fill="#111">C</text>
<text x="38.6" y="183.8" font-size="10.45" textLength="144" lengthAdjust="spacingAndGlyphs">DMS273-DLL3 systemic model</text>
<text x="44.1" y="195.3" font-size="9.75" font-style="italic" textLength="143.8" lengthAdjust="spacingAndGlyphs">Tumors detected in liver and lung</text>
<text x="55" y="214.8" font-size="9.9" textLength="27.8" lengthAdjust="spacingAndGlyphs">CAR T</text>
<rect x="54.15" y="221.1" width="2.3" height="12.4" fill="#5e5b58"/>
<polygon points="51.7,233 58.9,233 55.3,239.7" fill="#5e5b58"/>
<line x1="55.1" y1="241" x2="55.1" y2="327" stroke="#222" stroke-width="1.1" stroke-dasharray="1 2"/>
<line x1="44.6" y1="215.4" x2="44.6" y2="328" stroke="#1a1a1a" stroke-width="1.1"/>
<line x1="44.1" y1="327.5" x2="192.5" y2="327.5" stroke="#1a1a1a" stroke-width="1.1"/>
<line x1="41" y1="215.4" x2="44.6" y2="215.4" stroke="#1a1a1a" stroke-width="1"/>
<text x="38.4" y="218.5" font-size="8.6" font-weight="bold" text-anchor="end">10<tspan font-size="5.4" dy="-3.9">9</tspan></text>
<line x1="41" y1="247.43" x2="44.6" y2="247.43" stroke="#1a1a1a" stroke-width="1"/>
<text x="38.4" y="250.53" font-size="8.6" font-weight="bold" text-anchor="end">10<tspan font-size="5.4" dy="-3.9">8</tspan></text>
<line x1="41" y1="279.46" x2="44.6" y2="279.46" stroke="#1a1a1a" stroke-width="1"/>
<text x="38.4" y="282.56" font-size="8.6" font-weight="bold" text-anchor="end">10<tspan font-size="5.4" dy="-3.9">7</tspan></text>
<line x1="41" y1="311.49" x2="44.6" y2="311.49" stroke="#1a1a1a" stroke-width="1"/>
<text x="38.4" y="314.59" font-size="8.6" font-weight="bold" text-anchor="end">10<tspan font-size="5.4" dy="-3.9">6</tspan></text>
<text x="40.3" y="322" font-size="5.9" font-weight="bold" text-anchor="end" textLength="11.6" lengthAdjust="spacingAndGlyphs" fill="#333">LOD</text>
<line x1="47.6" y1="320.2" x2="192" y2="320.2" stroke="#333" stroke-width="1" stroke-dasharray="1 2"/>
<line x1="44.6" y1="327.5" x2="44.6" y2="330.7" stroke="#1a1a1a" stroke-width="1"/>
<text x="44.6" y="341.5" font-size="8.2" font-weight="bold" text-anchor="middle">0</text>
<line x1="77.45" y1="327.5" x2="77.45" y2="330.7" stroke="#1a1a1a" stroke-width="1"/>
<text x="77.45" y="341.5" font-size="8.2" font-weight="bold" text-anchor="middle">10</text>
<line x1="110.3" y1="327.5" x2="110.3" y2="330.7" stroke="#1a1a1a" stroke-width="1"/>
<text x="110.3" y="341.5" font-size="8.2" font-weight="bold" text-anchor="middle">20</text>
<line x1="143.15" y1="327.5" x2="143.15" y2="330.7" stroke="#1a1a1a" stroke-width="1"/>
<text x="143.15" y="341.5" font-size="8.2" font-weight="bold" text-anchor="middle">30</text>
<line x1="176" y1="327.5" x2="176" y2="330.7" stroke="#1a1a1a" stroke-width="1"/>
<text x="176" y="341.5" font-size="8.2" font-weight="bold" text-anchor="middle">40</text>
<text x="117.5" y="353.6" font-size="7.2" font-weight="bold" text-anchor="middle" textLength="62.5" lengthAdjust="spacingAndGlyphs">Days after implant</text>
<text x="16.4" y="270.2" font-size="9.4" font-weight="bold" text-anchor="middle" textLength="63.5" lengthAdjust="spacingAndGlyphs" transform="rotate(-90 16.4 270.2)">Total flux [p/s]</text>
<polyline points="54.45,323.5 77.45,321.5 97.16,313.1 103.73,312.8 116.87,305.1 126.72,292.9 136.58,284.8 143.15,283.4 172.72,273.1 185.85,271" fill="none" stroke="#e8464d" stroke-width="1.3"/>
<g stroke="#e97b82" stroke-width="0.75" opacity="0.9">
<line x1="97.16" y1="311.6" x2="97.16" y2="314.6" stroke="#e97b82" stroke-width="0.75"/>
<line x1="95.26" y1="311.6" x2="99.06" y2="311.6" stroke="#e97b82" stroke-width="0.75"/>
<line x1="95.26" y1="314.6" x2="99.06" y2="314.6" stroke="#e97b82" stroke-width="0.75"/>
</g>
<g stroke="#e97b82" stroke-width="0.75" opacity="0.9">
<line x1="103.73" y1="310.8" x2="103.73" y2="314.8" stroke="#e97b82" stroke-width="0.75"/>
<line x1="101.83" y1="310.8" x2="105.63" y2="310.8" stroke="#e97b82" stroke-width="0.75"/>
<line x1="101.83" y1="314.8" x2="105.63" y2="314.8" stroke="#e97b82" stroke-width="0.75"/>
</g>
<g stroke="#e97b82" stroke-width="0.75" opacity="0.9">
<line x1="116.87" y1="301.1" x2="116.87" y2="309.1" stroke="#e97b82" stroke-width="0.75"/>
<line x1="114.97" y1="301.1" x2="118.77" y2="301.1" stroke="#e97b82" stroke-width="0.75"/>
<line x1="114.97" y1="309.1" x2="118.77" y2="309.1" stroke="#e97b82" stroke-width="0.75"/>
</g>
<g stroke="#e97b82" stroke-width="0.75" opacity="0.9">
<line x1="126.72" y1="286.1" x2="126.72" y2="299.7" stroke="#e97b82" stroke-width="0.75"/>
<line x1="124.82" y1="286.1" x2="128.62" y2="286.1" stroke="#e97b82" stroke-width="0.75"/>
<line x1="124.82" y1="299.7" x2="128.62" y2="299.7" stroke="#e97b82" stroke-width="0.75"/>
</g>
<g stroke="#e97b82" stroke-width="0.75" opacity="0.9">
<line x1="136.58" y1="276.8" x2="136.58" y2="292.8" stroke="#e97b82" stroke-width="0.75"/>
<line x1="134.68" y1="276.8" x2="138.48" y2="276.8" stroke="#e97b82" stroke-width="0.75"/>
<line x1="134.68" y1="292.8" x2="138.48" y2="292.8" stroke="#e97b82" stroke-width="0.75"/>
</g>
<g stroke="#e97b82" stroke-width="0.75" opacity="0.9">
<line x1="143.15" y1="275.4" x2="143.15" y2="291.4" stroke="#e97b82" stroke-width="0.75"/>
<line x1="141.25" y1="275.4" x2="145.05" y2="275.4" stroke="#e97b82" stroke-width="0.75"/>
<line x1="141.25" y1="291.4" x2="145.05" y2="291.4" stroke="#e97b82" stroke-width="0.75"/>
</g>
<g stroke="#e97b82" stroke-width="0.75" opacity="0.9">
<line x1="172.72" y1="262.1" x2="172.72" y2="284.1" stroke="#e97b82" stroke-width="0.75"/>
<line x1="170.81" y1="262.1" x2="174.62" y2="262.1" stroke="#e97b82" stroke-width="0.75"/>
<line x1="170.81" y1="284.1" x2="174.62" y2="284.1" stroke="#e97b82" stroke-width="0.75"/>
</g>
<g stroke="#e97b82" stroke-width="0.75" opacity="0.9">
<line x1="185.85" y1="259" x2="185.85" y2="283" stroke="#e97b82" stroke-width="0.75"/>
<line x1="183.95" y1="259" x2="187.75" y2="259" stroke="#e97b82" stroke-width="0.75"/>
<line x1="183.95" y1="283" x2="187.75" y2="283" stroke="#e97b82" stroke-width="0.75"/>
</g>
<circle cx="54.45" cy="323.5" r="2.8" fill="#e8464d"/>
<circle cx="77.45" cy="321.5" r="2.8" fill="#e8464d"/>
<circle cx="97.16" cy="313.1" r="2.8" fill="#e8464d"/>
<circle cx="103.73" cy="312.8" r="2.8" fill="#e8464d"/>
<circle cx="116.87" cy="305.1" r="2.8" fill="#e8464d"/>
<circle cx="126.72" cy="292.9" r="2.8" fill="#e8464d"/>
<circle cx="136.58" cy="284.8" r="2.8" fill="#e8464d"/>
<circle cx="143.15" cy="283.4" r="2.8" fill="#e8464d"/>
<circle cx="172.72" cy="273.1" r="2.8" fill="#e8464d"/>
<circle cx="185.85" cy="271" r="2.8" fill="#e8464d"/>
<polyline points="54.45,323.5 77.45,321.5 97.16,320.6 103.73,318.6 116.87,313.5 126.72,306.5 136.58,289 143.15,283 172.72,263.9 185.85,252.2" fill="none" stroke="#3447a3" stroke-width="1.3"/>
<g stroke="#5d6bbd" stroke-width="0.75" opacity="0.9">
<line x1="103.73" y1="317.1" x2="103.73" y2="320.1" stroke="#5d6bbd" stroke-width="0.75"/>
<line x1="101.83" y1="317.1" x2="105.63" y2="317.1" stroke="#5d6bbd" stroke-width="0.75"/>
<line x1="101.83" y1="320.1" x2="105.63" y2="320.1" stroke="#5d6bbd" stroke-width="0.75"/>
</g>
<g stroke="#5d6bbd" stroke-width="0.75" opacity="0.9">
<line x1="116.87" y1="311.5" x2="116.87" y2="315.5" stroke="#5d6bbd" stroke-width="0.75"/>
<line x1="114.97" y1="311.5" x2="118.77" y2="311.5" stroke="#5d6bbd" stroke-width="0.75"/>
<line x1="114.97" y1="315.5" x2="118.77" y2="315.5" stroke="#5d6bbd" stroke-width="0.75"/>
</g>
<g stroke="#5d6bbd" stroke-width="0.75" opacity="0.9">
<line x1="126.72" y1="301.5" x2="126.72" y2="311.5" stroke="#5d6bbd" stroke-width="0.75"/>
<line x1="124.82" y1="301.5" x2="128.62" y2="301.5" stroke="#5d6bbd" stroke-width="0.75"/>
<line x1="124.82" y1="311.5" x2="128.62" y2="311.5" stroke="#5d6bbd" stroke-width="0.75"/>
</g>
<g stroke="#5d6bbd" stroke-width="0.75" opacity="0.9">
<line x1="136.58" y1="277" x2="136.58" y2="301" stroke="#5d6bbd" stroke-width="0.75"/>
<line x1="134.68" y1="277" x2="138.48" y2="277" stroke="#5d6bbd" stroke-width="0.75"/>
<line x1="134.68" y1="301" x2="138.48" y2="301" stroke="#5d6bbd" stroke-width="0.75"/>
</g>
<g stroke="#5d6bbd" stroke-width="0.75" opacity="0.9">
<line x1="143.15" y1="271.5" x2="143.15" y2="294.5" stroke="#5d6bbd" stroke-width="0.75"/>
<line x1="141.25" y1="271.5" x2="145.05" y2="271.5" stroke="#5d6bbd" stroke-width="0.75"/>
<line x1="141.25" y1="294.5" x2="145.05" y2="294.5" stroke="#5d6bbd" stroke-width="0.75"/>
</g>
<g stroke="#5d6bbd" stroke-width="0.75" opacity="0.9">
<line x1="172.72" y1="254.4" x2="172.72" y2="273.4" stroke="#5d6bbd" stroke-width="0.75"/>
<line x1="170.81" y1="254.4" x2="174.62" y2="254.4" stroke="#5d6bbd" stroke-width="0.75"/>
<line x1="170.81" y1="273.4" x2="174.62" y2="273.4" stroke="#5d6bbd" stroke-width="0.75"/>
</g>
<g stroke="#5d6bbd" stroke-width="0.75" opacity="0.9">
<line x1="185.85" y1="242" x2="185.85" y2="262.4" stroke="#5d6bbd" stroke-width="0.75"/>
<line x1="183.95" y1="242" x2="187.75" y2="242" stroke="#5d6bbd" stroke-width="0.75"/>
<line x1="183.95" y1="262.4" x2="187.75" y2="262.4" stroke="#5d6bbd" stroke-width="0.75"/>
</g>
<circle cx="54.45" cy="323.5" r="2.8" fill="#3447a3"/>
<circle cx="77.45" cy="321.5" r="2.8" fill="#3447a3"/>
<circle cx="97.16" cy="320.6" r="2.8" fill="#3447a3"/>
<circle cx="103.73" cy="318.6" r="2.8" fill="#3447a3"/>
<circle cx="116.87" cy="313.5" r="2.8" fill="#3447a3"/>
<circle cx="126.72" cy="306.5" r="2.8" fill="#3447a3"/>
<circle cx="136.58" cy="289" r="2.8" fill="#3447a3"/>
<circle cx="143.15" cy="283" r="2.8" fill="#3447a3"/>
<circle cx="172.72" cy="263.9" r="2.8" fill="#3447a3"/>
<circle cx="185.85" cy="252.2" r="2.8" fill="#3447a3"/>
<polyline points="54.45,323.5 77.45,321.5 97.16,314.4 103.73,318.4 116.87,312.8 126.72,305.8 136.58,303.6 143.15,309 172.72,294.7 185.85,293.7" fill="none" stroke="#1e8c40" stroke-width="1.3"/>
<g stroke="#3f9458" stroke-width="0.75" opacity="0.9">
<line x1="97.16" y1="312.9" x2="97.16" y2="315.9" stroke="#3f9458" stroke-width="0.75"/>
<line x1="95.26" y1="312.9" x2="99.06" y2="312.9" stroke="#3f9458" stroke-width="0.75"/>
<line x1="95.26" y1="315.9" x2="99.06" y2="315.9" stroke="#3f9458" stroke-width="0.75"/>
</g>
<g stroke="#3f9458" stroke-width="0.75" opacity="0.9">
<line x1="103.73" y1="316.9" x2="103.73" y2="319.9" stroke="#3f9458" stroke-width="0.75"/>
<line x1="101.83" y1="316.9" x2="105.63" y2="316.9" stroke="#3f9458" stroke-width="0.75"/>
<line x1="101.83" y1="319.9" x2="105.63" y2="319.9" stroke="#3f9458" stroke-width="0.75"/>
</g>
<g stroke="#3f9458" stroke-width="0.75" opacity="0.9">
<line x1="116.87" y1="310.8" x2="116.87" y2="314.8" stroke="#3f9458" stroke-width="0.75"/>
<line x1="114.97" y1="310.8" x2="118.77" y2="310.8" stroke="#3f9458" stroke-width="0.75"/>
<line x1="114.97" y1="314.8" x2="118.77" y2="314.8" stroke="#3f9458" stroke-width="0.75"/>
</g>
<g stroke="#3f9458" stroke-width="0.75" opacity="0.9">
<line x1="126.72" y1="300.8" x2="126.72" y2="310.8" stroke="#3f9458" stroke-width="0.75"/>
<line x1="124.82" y1="300.8" x2="128.62" y2="300.8" stroke="#3f9458" stroke-width="0.75"/>
<line x1="124.82" y1="310.8" x2="128.62" y2="310.8" stroke="#3f9458" stroke-width="0.75"/>
</g>
<g stroke="#3f9458" stroke-width="0.75" opacity="0.9">
<line x1="136.58" y1="298.6" x2="136.58" y2="308.6" stroke="#3f9458" stroke-width="0.75"/>
<line x1="134.68" y1="298.6" x2="138.48" y2="298.6" stroke="#3f9458" stroke-width="0.75"/>
<line x1="134.68" y1="308.6" x2="138.48" y2="308.6" stroke="#3f9458" stroke-width="0.75"/>
</g>
<g stroke="#3f9458" stroke-width="0.75" opacity="0.9">
<line x1="143.15" y1="304" x2="143.15" y2="314" stroke="#3f9458" stroke-width="0.75"/>
<line x1="141.25" y1="304" x2="145.05" y2="304" stroke="#3f9458" stroke-width="0.75"/>
<line x1="141.25" y1="314" x2="145.05" y2="314" stroke="#3f9458" stroke-width="0.75"/>
</g>
<g stroke="#3f9458" stroke-width="0.75" opacity="0.9">
<line x1="172.72" y1="282.1" x2="172.72" y2="307.3" stroke="#3f9458" stroke-width="0.75"/>
<line x1="170.81" y1="282.1" x2="174.62" y2="282.1" stroke="#3f9458" stroke-width="0.75"/>
<line x1="170.81" y1="307.3" x2="174.62" y2="307.3" stroke="#3f9458" stroke-width="0.75"/>
</g>
<g stroke="#3f9458" stroke-width="0.75" opacity="0.9">
<line x1="185.85" y1="281.2" x2="185.85" y2="306.2" stroke="#3f9458" stroke-width="0.75"/>
<line x1="183.95" y1="281.2" x2="187.75" y2="281.2" stroke="#3f9458" stroke-width="0.75"/>
<line x1="183.95" y1="306.2" x2="187.75" y2="306.2" stroke="#3f9458" stroke-width="0.75"/>
</g>
<circle cx="54.45" cy="323.5" r="2.8" fill="#1e8c40"/>
<circle cx="77.45" cy="321.5" r="2.8" fill="#1e8c40"/>
<circle cx="97.16" cy="314.4" r="2.8" fill="#1e8c40"/>
<circle cx="103.73" cy="318.4" r="2.8" fill="#1e8c40"/>
<circle cx="116.87" cy="312.8" r="2.8" fill="#1e8c40"/>
<circle cx="126.72" cy="305.8" r="2.8" fill="#1e8c40"/>
<circle cx="136.58" cy="303.6" r="2.8" fill="#1e8c40"/>
<circle cx="143.15" cy="309" r="2.8" fill="#1e8c40"/>
<circle cx="172.72" cy="294.7" r="2.8" fill="#1e8c40"/>
<circle cx="185.85" cy="293.7" r="2.8" fill="#1e8c40"/>
<polyline points="54.45,323.5 77.45,319.2 97.16,302.6 103.73,295.9 116.87,281.6 126.72,269.4" fill="none" stroke="#1a1a1a" stroke-width="1.3"/>
<g stroke="#333" stroke-width="0.75">
<line x1="103.73" y1="290.6" x2="103.73" y2="301.2" stroke="#333" stroke-width="0.75"/>
<line x1="101.48" y1="290.6" x2="105.98" y2="290.6" stroke="#333" stroke-width="0.75"/>
<line x1="101.48" y1="301.2" x2="105.98" y2="301.2" stroke="#333" stroke-width="0.75"/>
</g>
<g stroke="#333" stroke-width="0.75">
<line x1="116.87" y1="275.3" x2="116.87" y2="287.9" stroke="#333" stroke-width="0.75"/>
<line x1="114.62" y1="275.3" x2="119.12" y2="275.3" stroke="#333" stroke-width="0.75"/>
<line x1="114.62" y1="287.9" x2="119.12" y2="287.9" stroke="#333" stroke-width="0.75"/>
</g>
<g stroke="#333" stroke-width="0.75">
<line x1="126.72" y1="263.1" x2="126.72" y2="275.7" stroke="#333" stroke-width="0.75"/>
<line x1="124.47" y1="263.1" x2="128.97" y2="263.1" stroke="#333" stroke-width="0.75"/>
<line x1="124.47" y1="275.7" x2="128.97" y2="275.7" stroke="#333" stroke-width="0.75"/>
</g>
<rect x="51.55" y="320.6" width="5.8" height="5.8" fill="none" stroke="#1a1a1a" stroke-width="1.3"/>
<rect x="74.55" y="316.3" width="5.8" height="5.8" fill="none" stroke="#1a1a1a" stroke-width="1.3"/>
<rect x="94.26" y="299.7" width="5.8" height="5.8" fill="none" stroke="#1a1a1a" stroke-width="1.3"/>
<rect x="100.83" y="293" width="5.8" height="5.8" fill="none" stroke="#1a1a1a" stroke-width="1.3"/>
<rect x="113.97" y="278.7" width="5.8" height="5.8" fill="none" stroke="#1a1a1a" stroke-width="1.3"/>
<rect x="123.82" y="266.5" width="5.8" height="5.8" fill="none" stroke="#1a1a1a" stroke-width="1.3"/>
<line x1="88.75" y1="375.5" x2="100.25" y2="375.5" stroke="#1a1a1a" stroke-width="0.95"/>
<rect x="91.8" y="372.8" width="5.4" height="5.4" fill="none" stroke="#1a1a1a" stroke-width="1.2"/>
<text x="107.5" y="378.15" font-size="9.2" textLength="16.2" lengthAdjust="spacingAndGlyphs" fill="#2a2a2a">NTD</text>
<line x1="88.75" y1="389.5" x2="100.25" y2="389.5" stroke="#26306e" stroke-width="0.95"/>
<circle cx="94.5" cy="389.5" r="2.85" fill="#3447a3"/>
<text x="107.5" y="392.15" font-size="9.2" textLength="47.5" lengthAdjust="spacingAndGlyphs" fill="#2a2a2a">Clone 7-R2S</text>
<line x1="88.75" y1="402" x2="100.25" y2="402" stroke="#d85a68" stroke-width="0.95"/>
<circle cx="94.5" cy="402" r="2.85" fill="#e8464d"/>
<text x="107.5" y="404.65" font-size="9.2" textLength="47.5" lengthAdjust="spacingAndGlyphs" fill="#2a2a2a">Clone 9-SR2</text>
<line x1="88.75" y1="414.6" x2="100.25" y2="414.6" stroke="#1d5c32" stroke-width="0.95"/>
<circle cx="94.5" cy="414.6" r="2.85" fill="#1e8c40"/>
<text x="107.5" y="417.25" font-size="9.2" textLength="49.5" lengthAdjust="spacingAndGlyphs" fill="#2a2a2a">Clone 4-RSR</text>
<polyline points="159.3,383.8 165.8,383.8 165.8,414.5 159.3,414.5" fill="none" stroke="#3a3a3a" stroke-width="1"/>
<text x="177.6" y="403.2" font-size="10" font-weight="bold" text-anchor="middle" textLength="8.6" lengthAdjust="spacingAndGlyphs" fill="#333">**</text>
<text x="258.6" y="183.9" font-size="12" font-weight="bold" fill="#111">D</text>
<text x="328.9" y="183.4" font-size="10.5" textLength="112.3" lengthAdjust="spacingAndGlyphs">SHP-77 systemic model</text>
<text x="292.6" y="194.9" font-size="9.7" font-style="italic" textLength="186" lengthAdjust="spacingAndGlyphs">Tumors detected in lung, kidney, liver, brain</text>
<text x="319.2" y="210.7" font-size="9.4" textLength="25.2" lengthAdjust="spacingAndGlyphs">CAR T</text>
<rect x="319.85" y="216.9" width="2.3" height="13.6" fill="#5e5b58"/>
<polygon points="318,230 324,230 321,237.7" fill="#5e5b58"/>
<line x1="320.8" y1="239" x2="320.8" y2="328" stroke="#222" stroke-width="1.1" stroke-dasharray="1 2"/>
<line x1="306.2" y1="216.6" x2="306.2" y2="328.7" stroke="#1a1a1a" stroke-width="1.1"/>
<line x1="305.7" y1="328.2" x2="443" y2="328.2" stroke="#1a1a1a" stroke-width="1.1"/>
<line x1="302.6" y1="216.6" x2="306.2" y2="216.6" stroke="#1a1a1a" stroke-width="1"/>
<text x="300.4" y="219.6" font-size="8.4" font-weight="bold" text-anchor="end">10<tspan font-size="5.2" dy="-3.8">9</tspan></text>
<line x1="302.6" y1="246.8" x2="306.2" y2="246.8" stroke="#1a1a1a" stroke-width="1"/>
<text x="300.4" y="249.8" font-size="8.4" font-weight="bold" text-anchor="end">10<tspan font-size="5.2" dy="-3.8">8</tspan></text>
<line x1="302.6" y1="277" x2="306.2" y2="277" stroke="#1a1a1a" stroke-width="1"/>
<text x="300.4" y="280" font-size="8.4" font-weight="bold" text-anchor="end">10<tspan font-size="5.2" dy="-3.8">7</tspan></text>
<line x1="302.6" y1="307.2" x2="306.2" y2="307.2" stroke="#1a1a1a" stroke-width="1"/>
<text x="300.4" y="310.2" font-size="8.4" font-weight="bold" text-anchor="end">10<tspan font-size="5.2" dy="-3.8">6</tspan></text>
<text x="300" y="324.6" font-size="6.2" font-weight="bold" text-anchor="end" textLength="11.4" lengthAdjust="spacingAndGlyphs" fill="#333">LOD</text>
<line x1="309.2" y1="322.4" x2="443" y2="322.4" stroke="#333" stroke-width="1" stroke-dasharray="1 2"/>
<line x1="305.9" y1="328.2" x2="305.9" y2="331.4" stroke="#1a1a1a" stroke-width="1"/>
<text x="305.9" y="342" font-size="8.2" font-weight="bold" text-anchor="middle">0</text>
<line x1="330.63" y1="328.2" x2="330.63" y2="331.4" stroke="#1a1a1a" stroke-width="1"/>
<text x="330.63" y="342" font-size="8.2" font-weight="bold" text-anchor="middle">10</text>
<line x1="355.36" y1="328.2" x2="355.36" y2="331.4" stroke="#1a1a1a" stroke-width="1"/>
<text x="355.36" y="342" font-size="8.2" font-weight="bold" text-anchor="middle">20</text>
<line x1="380.09" y1="328.2" x2="380.09" y2="331.4" stroke="#1a1a1a" stroke-width="1"/>
<text x="380.09" y="342" font-size="8.2" font-weight="bold" text-anchor="middle">30</text>
<line x1="404.82" y1="328.2" x2="404.82" y2="331.4" stroke="#1a1a1a" stroke-width="1"/>
<text x="404.82" y="342" font-size="8.2" font-weight="bold" text-anchor="middle">40</text>
<line x1="429.55" y1="328.2" x2="429.55" y2="331.4" stroke="#1a1a1a" stroke-width="1"/>
<text x="429.55" y="342" font-size="8.2" font-weight="bold" text-anchor="middle">50</text>
<text x="374.3" y="353.8" font-size="7.2" font-weight="bold" text-anchor="middle" textLength="63.5" lengthAdjust="spacingAndGlyphs">Days after implant</text>
<text x="277.2" y="270.2" font-size="9.4" font-weight="bold" text-anchor="middle" textLength="63.5" lengthAdjust="spacingAndGlyphs" transform="rotate(-90 277.2 270.2)">Total flux [p/s]</text>
<polyline points="328.16,318.6 338.05,315 345.47,309.2 355.36,309 362.78,304.6 372.67,306 380.09,309.1 389.98,302.6 404.82,303.6 414.71,310.3 424.6,303.8 432.02,308.4" fill="none" stroke="#1e8c40" stroke-width="1.3"/>
<g stroke="#7fb98f" stroke-width="0.75" opacity="0.9">
<line x1="345.47" y1="307.7" x2="345.47" y2="310.7" stroke="#7fb98f" stroke-width="0.75"/>
<line x1="343.57" y1="307.7" x2="347.37" y2="307.7" stroke="#7fb98f" stroke-width="0.75"/>
<line x1="343.57" y1="310.7" x2="347.37" y2="310.7" stroke="#7fb98f" stroke-width="0.75"/>
</g>
<g stroke="#7fb98f" stroke-width="0.75" opacity="0.9">
<line x1="355.36" y1="307.5" x2="355.36" y2="310.5" stroke="#7fb98f" stroke-width="0.75"/>
<line x1="353.46" y1="307.5" x2="357.26" y2="307.5" stroke="#7fb98f" stroke-width="0.75"/>
<line x1="353.46" y1="310.5" x2="357.26" y2="310.5" stroke="#7fb98f" stroke-width="0.75"/>
</g>
<g stroke="#7fb98f" stroke-width="0.75" opacity="0.9">
<line x1="362.78" y1="302.6" x2="362.78" y2="306.6" stroke="#7fb98f" stroke-width="0.75"/>
<line x1="360.88" y1="302.6" x2="364.68" y2="302.6" stroke="#7fb98f" stroke-width="0.75"/>
<line x1="360.88" y1="306.6" x2="364.68" y2="306.6" stroke="#7fb98f" stroke-width="0.75"/>
</g>
<g stroke="#7fb98f" stroke-width="0.75" opacity="0.9">
<line x1="372.67" y1="304" x2="372.67" y2="308" stroke="#7fb98f" stroke-width="0.75"/>
<line x1="370.77" y1="304" x2="374.57" y2="304" stroke="#7fb98f" stroke-width="0.75"/>
<line x1="370.77" y1="308" x2="374.57" y2="308" stroke="#7fb98f" stroke-width="0.75"/>
</g>
<g stroke="#7fb98f" stroke-width="0.75" opacity="0.9">
<line x1="380.09" y1="306.6" x2="380.09" y2="311.6" stroke="#7fb98f" stroke-width="0.75"/>
<line x1="378.19" y1="306.6" x2="381.99" y2="306.6" stroke="#7fb98f" stroke-width="0.75"/>
<line x1="378.19" y1="311.6" x2="381.99" y2="311.6" stroke="#7fb98f" stroke-width="0.75"/>
</g>
<g stroke="#7fb98f" stroke-width="0.75" opacity="0.9">
<line x1="389.98" y1="300.1" x2="389.98" y2="305.1" stroke="#7fb98f" stroke-width="0.75"/>
<line x1="388.08" y1="300.1" x2="391.88" y2="300.1" stroke="#7fb98f" stroke-width="0.75"/>
<line x1="388.08" y1="305.1" x2="391.88" y2="305.1" stroke="#7fb98f" stroke-width="0.75"/>
</g>
<g stroke="#7fb98f" stroke-width="0.75" opacity="0.9">
<line x1="404.82" y1="301.1" x2="404.82" y2="306.1" stroke="#7fb98f" stroke-width="0.75"/>
<line x1="402.92" y1="301.1" x2="406.72" y2="301.1" stroke="#7fb98f" stroke-width="0.75"/>
<line x1="402.92" y1="306.1" x2="406.72" y2="306.1" stroke="#7fb98f" stroke-width="0.75"/>
</g>
<g stroke="#7fb98f" stroke-width="0.75" opacity="0.9">
<line x1="414.71" y1="307.3" x2="414.71" y2="313.3" stroke="#7fb98f" stroke-width="0.75"/>
<line x1="412.81" y1="307.3" x2="416.61" y2="307.3" stroke="#7fb98f" stroke-width="0.75"/>
<line x1="412.81" y1="313.3" x2="416.61" y2="313.3" stroke="#7fb98f" stroke-width="0.75"/>
</g>
<g stroke="#7fb98f" stroke-width="0.75" opacity="0.9">
<line x1="424.6" y1="301.3" x2="424.6" y2="306.3" stroke="#7fb98f" stroke-width="0.75"/>
<line x1="422.7" y1="301.3" x2="426.5" y2="301.3" stroke="#7fb98f" stroke-width="0.75"/>
<line x1="422.7" y1="306.3" x2="426.5" y2="306.3" stroke="#7fb98f" stroke-width="0.75"/>
</g>
<g stroke="#7fb98f" stroke-width="0.75" opacity="0.9">
<line x1="432.02" y1="305.9" x2="432.02" y2="310.9" stroke="#7fb98f" stroke-width="0.75"/>
<line x1="430.12" y1="305.9" x2="433.92" y2="305.9" stroke="#7fb98f" stroke-width="0.75"/>
<line x1="430.12" y1="310.9" x2="433.92" y2="310.9" stroke="#7fb98f" stroke-width="0.75"/>
</g>
<circle cx="328.16" cy="318.6" r="2.8" fill="#1e8c40"/>
<circle cx="338.05" cy="315" r="2.8" fill="#1e8c40"/>
<circle cx="345.47" cy="309.2" r="2.8" fill="#1e8c40"/>
<circle cx="355.36" cy="309" r="2.8" fill="#1e8c40"/>
<circle cx="362.78" cy="304.6" r="2.8" fill="#1e8c40"/>
<circle cx="372.67" cy="306" r="2.8" fill="#1e8c40"/>
<circle cx="380.09" cy="309.1" r="2.8" fill="#1e8c40"/>
<circle cx="389.98" cy="302.6" r="2.8" fill="#1e8c40"/>
<circle cx="404.82" cy="303.6" r="2.8" fill="#1e8c40"/>
<circle cx="414.71" cy="310.3" r="2.8" fill="#1e8c40"/>
<circle cx="424.6" cy="303.8" r="2.8" fill="#1e8c40"/>
<circle cx="432.02" cy="308.4" r="2.8" fill="#1e8c40"/>
<polyline points="320.74,299 328.16,316.7 338.05,314.4 345.47,308.8 355.36,308.6 362.78,299 372.67,290.8 380.09,296.4 389.98,285.6 404.82,281.5 414.71,292.3 424.6,293 432.02,290.4" fill="none" stroke="#3447a3" stroke-width="1.3"/>
<g stroke="#8a96d0" stroke-width="0.75" opacity="0.9">
<line x1="328.16" y1="314.7" x2="328.16" y2="318.7" stroke="#8a96d0" stroke-width="0.75"/>
<line x1="326.26" y1="314.7" x2="330.06" y2="314.7" stroke="#8a96d0" stroke-width="0.75"/>
<line x1="326.26" y1="318.7" x2="330.06" y2="318.7" stroke="#8a96d0" stroke-width="0.75"/>
</g>
<g stroke="#8a96d0" stroke-width="0.75" opacity="0.9">
<line x1="338.05" y1="312.4" x2="338.05" y2="316.4" stroke="#8a96d0" stroke-width="0.75"/>
<line x1="336.15" y1="312.4" x2="339.95" y2="312.4" stroke="#8a96d0" stroke-width="0.75"/>
<line x1="336.15" y1="316.4" x2="339.95" y2="316.4" stroke="#8a96d0" stroke-width="0.75"/>
</g>
<g stroke="#8a96d0" stroke-width="0.75" opacity="0.9">
<line x1="345.47" y1="306.8" x2="345.47" y2="310.8" stroke="#8a96d0" stroke-width="0.75"/>
<line x1="343.57" y1="306.8" x2="347.37" y2="306.8" stroke="#8a96d0" stroke-width="0.75"/>
<line x1="343.57" y1="310.8" x2="347.37" y2="310.8" stroke="#8a96d0" stroke-width="0.75"/>
</g>
<g stroke="#8a96d0" stroke-width="0.75" opacity="0.9">
<line x1="355.36" y1="306.1" x2="355.36" y2="311.1" stroke="#8a96d0" stroke-width="0.75"/>
<line x1="353.46" y1="306.1" x2="357.26" y2="306.1" stroke="#8a96d0" stroke-width="0.75"/>
<line x1="353.46" y1="311.1" x2="357.26" y2="311.1" stroke="#8a96d0" stroke-width="0.75"/>
</g>
<g stroke="#8a96d0" stroke-width="0.75" opacity="0.9">
<line x1="362.78" y1="296" x2="362.78" y2="302" stroke="#8a96d0" stroke-width="0.75"/>
<line x1="360.88" y1="296" x2="364.68" y2="296" stroke="#8a96d0" stroke-width="0.75"/>
<line x1="360.88" y1="302" x2="364.68" y2="302" stroke="#8a96d0" stroke-width="0.75"/>
</g>
<g stroke="#8a96d0" stroke-width="0.75" opacity="0.9">
<line x1="372.67" y1="287.3" x2="372.67" y2="294.3" stroke="#8a96d0" stroke-width="0.75"/>
<line x1="370.77" y1="287.3" x2="374.57" y2="287.3" stroke="#8a96d0" stroke-width="0.75"/>
<line x1="370.77" y1="294.3" x2="374.57" y2="294.3" stroke="#8a96d0" stroke-width="0.75"/>
</g>
<g stroke="#8a96d0" stroke-width="0.75" opacity="0.9">
<line x1="380.09" y1="292.9" x2="380.09" y2="299.9" stroke="#8a96d0" stroke-width="0.75"/>
<line x1="378.19" y1="292.9" x2="381.99" y2="292.9" stroke="#8a96d0" stroke-width="0.75"/>
<line x1="378.19" y1="299.9" x2="381.99" y2="299.9" stroke="#8a96d0" stroke-width="0.75"/>
</g>
<g stroke="#8a96d0" stroke-width="0.75" opacity="0.9">
<line x1="389.98" y1="281.6" x2="389.98" y2="289.6" stroke="#8a96d0" stroke-width="0.75"/>
<line x1="388.08" y1="281.6" x2="391.88" y2="281.6" stroke="#8a96d0" stroke-width="0.75"/>
<line x1="388.08" y1="289.6" x2="391.88" y2="289.6" stroke="#8a96d0" stroke-width="0.75"/>
</g>
<g stroke="#8a96d0" stroke-width="0.75" opacity="0.9">
<line x1="404.82" y1="277" x2="404.82" y2="286" stroke="#8a96d0" stroke-width="0.75"/>
<line x1="402.92" y1="277" x2="406.72" y2="277" stroke="#8a96d0" stroke-width="0.75"/>
<line x1="402.92" y1="286" x2="406.72" y2="286" stroke="#8a96d0" stroke-width="0.75"/>
</g>
<g stroke="#8a96d0" stroke-width="0.75" opacity="0.9">
<line x1="414.71" y1="287.8" x2="414.71" y2="296.8" stroke="#8a96d0" stroke-width="0.75"/>
<line x1="412.81" y1="287.8" x2="416.61" y2="287.8" stroke="#8a96d0" stroke-width="0.75"/>
<line x1="412.81" y1="296.8" x2="416.61" y2="296.8" stroke="#8a96d0" stroke-width="0.75"/>
</g>
<g stroke="#8a96d0" stroke-width="0.75" opacity="0.9">
<line x1="424.6" y1="288.5" x2="424.6" y2="297.5" stroke="#8a96d0" stroke-width="0.75"/>
<line x1="422.7" y1="288.5" x2="426.5" y2="288.5" stroke="#8a96d0" stroke-width="0.75"/>
<line x1="422.7" y1="297.5" x2="426.5" y2="297.5" stroke="#8a96d0" stroke-width="0.75"/>
</g>
<g stroke="#8a96d0" stroke-width="0.75" opacity="0.9">
<line x1="432.02" y1="286.9" x2="432.02" y2="293.9" stroke="#8a96d0" stroke-width="0.75"/>
<line x1="430.12" y1="286.9" x2="433.92" y2="286.9" stroke="#8a96d0" stroke-width="0.75"/>
<line x1="430.12" y1="293.9" x2="433.92" y2="293.9" stroke="#8a96d0" stroke-width="0.75"/>
</g>
<circle cx="320.74" cy="299" r="2.8" fill="#3447a3"/>
<circle cx="328.16" cy="316.7" r="2.8" fill="#3447a3"/>
<circle cx="338.05" cy="314.4" r="2.8" fill="#3447a3"/>
<circle cx="345.47" cy="308.8" r="2.8" fill="#3447a3"/>
<circle cx="355.36" cy="308.6" r="2.8" fill="#3447a3"/>
<circle cx="362.78" cy="299" r="2.8" fill="#3447a3"/>
<circle cx="372.67" cy="290.8" r="2.8" fill="#3447a3"/>
<circle cx="380.09" cy="296.4" r="2.8" fill="#3447a3"/>
<circle cx="389.98" cy="285.6" r="2.8" fill="#3447a3"/>
<circle cx="404.82" cy="281.5" r="2.8" fill="#3447a3"/>
<circle cx="414.71" cy="292.3" r="2.8" fill="#3447a3"/>
<circle cx="424.6" cy="293" r="2.8" fill="#3447a3"/>
<circle cx="432.02" cy="290.4" r="2.8" fill="#3447a3"/>
<polyline points="320.74,299 328.16,301.7 338.05,296.1 345.47,294.4 355.36,291 362.78,282.8 372.67,271.2 380.09,258 389.98,244.4 404.82,234.8 414.71,226.4" fill="none" stroke="#1a1a1a" stroke-width="1.3"/>
<g stroke="#9a9a9a" stroke-width="0.75">
<line x1="338.05" y1="294.6" x2="338.05" y2="297.6" stroke="#9a9a9a" stroke-width="0.75"/>
<line x1="336.15" y1="294.6" x2="339.95" y2="294.6" stroke="#9a9a9a" stroke-width="0.75"/>
<line x1="336.15" y1="297.6" x2="339.95" y2="297.6" stroke="#9a9a9a" stroke-width="0.75"/>
</g>
<g stroke="#9a9a9a" stroke-width="0.75">
<line x1="345.47" y1="292.4" x2="345.47" y2="296.4" stroke="#9a9a9a" stroke-width="0.75"/>
<line x1="343.57" y1="292.4" x2="347.37" y2="292.4" stroke="#9a9a9a" stroke-width="0.75"/>
<line x1="343.57" y1="296.4" x2="347.37" y2="296.4" stroke="#9a9a9a" stroke-width="0.75"/>
</g>
<g stroke="#9a9a9a" stroke-width="0.75">
<line x1="355.36" y1="288" x2="355.36" y2="294" stroke="#9a9a9a" stroke-width="0.75"/>
<line x1="353.46" y1="288" x2="357.26" y2="288" stroke="#9a9a9a" stroke-width="0.75"/>
<line x1="353.46" y1="294" x2="357.26" y2="294" stroke="#9a9a9a" stroke-width="0.75"/>
</g>
<g stroke="#9a9a9a" stroke-width="0.75">
<line x1="362.78" y1="277.3" x2="362.78" y2="288.3" stroke="#9a9a9a" stroke-width="0.75"/>
<line x1="360.88" y1="277.3" x2="364.68" y2="277.3" stroke="#9a9a9a" stroke-width="0.75"/>
<line x1="360.88" y1="288.3" x2="364.68" y2="288.3" stroke="#9a9a9a" stroke-width="0.75"/>
</g>
<g stroke="#9a9a9a" stroke-width="0.75">
<line x1="372.67" y1="265.2" x2="372.67" y2="277.2" stroke="#9a9a9a" stroke-width="0.75"/>
<line x1="370.77" y1="265.2" x2="374.57" y2="265.2" stroke="#9a9a9a" stroke-width="0.75"/>
<line x1="370.77" y1="277.2" x2="374.57" y2="277.2" stroke="#9a9a9a" stroke-width="0.75"/>
</g>
<g stroke="#9a9a9a" stroke-width="0.75">
<line x1="380.09" y1="251.5" x2="380.09" y2="264.5" stroke="#9a9a9a" stroke-width="0.75"/>
<line x1="378.19" y1="251.5" x2="381.99" y2="251.5" stroke="#9a9a9a" stroke-width="0.75"/>
<line x1="378.19" y1="264.5" x2="381.99" y2="264.5" stroke="#9a9a9a" stroke-width="0.75"/>
</g>
<g stroke="#9a9a9a" stroke-width="0.75">
<line x1="389.98" y1="237.4" x2="389.98" y2="251.4" stroke="#9a9a9a" stroke-width="0.75"/>
<line x1="388.08" y1="237.4" x2="391.88" y2="237.4" stroke="#9a9a9a" stroke-width="0.75"/>
<line x1="388.08" y1="251.4" x2="391.88" y2="251.4" stroke="#9a9a9a" stroke-width="0.75"/>
</g>
<g stroke="#9a9a9a" stroke-width="0.75">
<line x1="404.82" y1="226.8" x2="404.82" y2="242.8" stroke="#9a9a9a" stroke-width="0.75"/>
<line x1="402.92" y1="226.8" x2="406.72" y2="226.8" stroke="#9a9a9a" stroke-width="0.75"/>
<line x1="402.92" y1="242.8" x2="406.72" y2="242.8" stroke="#9a9a9a" stroke-width="0.75"/>
</g>
<g stroke="#9a9a9a" stroke-width="0.75">
<line x1="414.71" y1="220.4" x2="414.71" y2="232.4" stroke="#9a9a9a" stroke-width="0.75"/>
<line x1="412.81" y1="220.4" x2="416.61" y2="220.4" stroke="#9a9a9a" stroke-width="0.75"/>
<line x1="412.81" y1="232.4" x2="416.61" y2="232.4" stroke="#9a9a9a" stroke-width="0.75"/>
</g>
<rect x="317.84" y="296.1" width="5.8" height="5.8" fill="none" stroke="#1a1a1a" stroke-width="1.3"/>
<rect x="325.26" y="298.8" width="5.8" height="5.8" fill="none" stroke="#1a1a1a" stroke-width="1.3"/>
<rect x="335.15" y="293.2" width="5.8" height="5.8" fill="none" stroke="#1a1a1a" stroke-width="1.3"/>
<rect x="342.57" y="291.5" width="5.8" height="5.8" fill="none" stroke="#1a1a1a" stroke-width="1.3"/>
<rect x="352.46" y="288.1" width="5.8" height="5.8" fill="none" stroke="#1a1a1a" stroke-width="1.3"/>
<rect x="359.88" y="279.9" width="5.8" height="5.8" fill="none" stroke="#1a1a1a" stroke-width="1.3"/>
<rect x="369.77" y="268.3" width="5.8" height="5.8" fill="none" stroke="#1a1a1a" stroke-width="1.3"/>
<rect x="377.19" y="255.1" width="5.8" height="5.8" fill="none" stroke="#1a1a1a" stroke-width="1.3"/>
<rect x="387.08" y="241.5" width="5.8" height="5.8" fill="none" stroke="#1a1a1a" stroke-width="1.3"/>
<rect x="401.92" y="231.9" width="5.8" height="5.8" fill="none" stroke="#1a1a1a" stroke-width="1.3"/>
<rect x="411.81" y="223.5" width="5.8" height="5.8" fill="none" stroke="#1a1a1a" stroke-width="1.3"/>
<line x1="331.75" y1="380" x2="343.25" y2="380" stroke="#1a1a1a" stroke-width="0.95"/>
<rect x="334.8" y="377.3" width="5.4" height="5.4" fill="none" stroke="#1a1a1a" stroke-width="1.2"/>
<text x="351.3" y="382.65" font-size="9.2" textLength="16.7" lengthAdjust="spacingAndGlyphs" fill="#2a2a2a">NTD</text>
<line x1="331.75" y1="393.8" x2="343.25" y2="393.8" stroke="#26306e" stroke-width="0.95"/>
<circle cx="337.5" cy="393.8" r="2.85" fill="#3447a3"/>
<text x="351.3" y="396.9" font-size="9.6" textLength="51.2" lengthAdjust="spacingAndGlyphs" fill="#2a2a2a">Clone 7-R2S</text>
<line x1="331.75" y1="407.5" x2="343.25" y2="407.5" stroke="#1d5c32" stroke-width="0.95"/>
<circle cx="337.5" cy="407.5" r="2.85" fill="#1e8c40"/>
<text x="351.3" y="410.6" font-size="9.6" textLength="52.5" lengthAdjust="spacingAndGlyphs" fill="#2a2a2a">Clone 4-RSR</text>
<polyline points="407.3,390.5 411.3,390.5 411.3,410 407.3,410" fill="none" stroke="#3a3a3a" stroke-width="1"/>
<text x="422.2" y="404.6" font-size="11" font-weight="bold" text-anchor="middle" textLength="8.6" lengthAdjust="spacingAndGlyphs" fill="#333">**</text>
<text x="0.3" y="443.5" font-size="12" font-weight="bold" fill="#111">E</text>
<text x="63.5" y="452" font-size="8.1" font-weight="bold" textLength="99" lengthAdjust="spacingAndGlyphs">CAR T-cell count in blood</text>
<line x1="44.5" y1="462.6" x2="44.5" y2="546.9" stroke="#333" stroke-width="1.1"/>
<line x1="44" y1="546.4" x2="183.2" y2="546.4" stroke="#1a1a1a" stroke-width="1.1"/>
<line x1="41.5" y1="546.4" x2="44.5" y2="546.4" stroke="#333" stroke-width="1"/>
<text x="39.2" y="548.4" font-size="5.8" font-weight="bold" text-anchor="end" fill="#333">0</text>
<line x1="41.5" y1="525.55" x2="44.5" y2="525.55" stroke="#333" stroke-width="1"/>
<text x="42" y="527.55" font-size="5.8" font-weight="bold" text-anchor="end" textLength="18.8" lengthAdjust="spacingAndGlyphs" fill="#333">5×10<tspan font-size="4" dy="-2.4">3</tspan></text>
<line x1="41.5" y1="504.7" x2="44.5" y2="504.7" stroke="#333" stroke-width="1"/>
<text x="42" y="506.7" font-size="5.8" font-weight="bold" text-anchor="end" textLength="18.8" lengthAdjust="spacingAndGlyphs" fill="#333">1×10<tspan font-size="4" dy="-2.4">4</tspan></text>
<line x1="41.5" y1="483.85" x2="44.5" y2="483.85" stroke="#333" stroke-width="1"/>
<text x="42" y="485.85" font-size="5.8" font-weight="bold" text-anchor="end" textLength="24" lengthAdjust="spacingAndGlyphs" fill="#333">1.5×10<tspan font-size="4" dy="-2.4">4</tspan></text>
<line x1="41.5" y1="463" x2="44.5" y2="463" stroke="#333" stroke-width="1"/>
<text x="42" y="465" font-size="5.8" font-weight="bold" text-anchor="end" textLength="18.8" lengthAdjust="spacingAndGlyphs" fill="#333">2×10<tspan font-size="4" dy="-2.4">4</tspan></text>
<line x1="62.6" y1="546.4" x2="62.6" y2="549.4" stroke="#1a1a1a" stroke-width="1"/>
<line x1="113.7" y1="546.4" x2="113.7" y2="549.4" stroke="#1a1a1a" stroke-width="1"/>
<line x1="164.5" y1="546.4" x2="164.5" y2="549.4" stroke="#1a1a1a" stroke-width="1"/>
<text x="62.8" y="557" font-size="7" font-weight="bold" text-anchor="middle" fill="#333">14</text>
<text x="113.9" y="557" font-size="7" font-weight="bold" text-anchor="middle" fill="#333">28</text>
<text x="164.7" y="557" font-size="7" font-weight="bold" text-anchor="middle" fill="#333">47</text>
<text x="114.3" y="568.2" font-size="7.2" font-weight="bold" text-anchor="middle" textLength="78.4" lengthAdjust="spacingAndGlyphs">Day after CART implant</text>
<text x="13.5" y="507" font-size="7.3" font-weight="bold" text-anchor="middle" textLength="74.6" lengthAdjust="spacingAndGlyphs" transform="rotate(-90 13.5 507)">CAR<tspan font-size="4.6" dy="-2.8">+</tspan><tspan dy="2.8"> count/mL blood</tspan></text>
<line x1="89.4" y1="458.8" x2="89.4" y2="544" stroke="#222" stroke-width="1.1" stroke-dasharray="2.1 2.3"/>
<line x1="136.5" y1="458.8" x2="136.5" y2="544" stroke="#222" stroke-width="1.1" stroke-dasharray="2.1 2.3"/>
<rect x="50.85" y="493" width="8.4" height="53.4" fill="#c9e9c2" stroke="#2a8a46" stroke-width="1.3"/>
<rect x="66.15" y="486.2" width="8.4" height="60.2" fill="#c9ccef" stroke="#4f5fbf" stroke-width="1.3"/>
<g stroke="#2a8a46" stroke-width="0.8">
<line x1="55" y1="476.3" x2="55" y2="509.7" stroke="#2a8a46" stroke-width="0.8"/>
<line x1="53.4" y1="476.3" x2="56.6" y2="476.3" stroke="#2a8a46" stroke-width="0.8"/>
<line x1="53.4" y1="509.7" x2="56.6" y2="509.7" stroke="#2a8a46" stroke-width="0.8"/>
</g>
<g stroke="#4f5fbf" stroke-width="0.8">
<line x1="70.3" y1="470.5" x2="70.3" y2="499.5" stroke="#4f5fbf" stroke-width="0.8"/>
<line x1="68.7" y1="470.5" x2="71.9" y2="470.5" stroke="#4f5fbf" stroke-width="0.8"/>
<line x1="68.7" y1="499.5" x2="71.9" y2="499.5" stroke="#4f5fbf" stroke-width="0.8"/>
</g>
<polygon points="55,476.33 53.2,479.45 56.8,479.45" fill="#6fb67f" stroke="#2a8a46" stroke-width="0.9" stroke-linejoin="round"/>
<polygon points="55,481.83 53.2,484.95 56.8,484.95" fill="#6fb67f" stroke="#2a8a46" stroke-width="0.9" stroke-linejoin="round"/>
<polygon points="55,492.83 53.2,495.95 56.8,495.95" fill="#6fb67f" stroke="#2a8a46" stroke-width="0.9" stroke-linejoin="round"/>
<polygon points="55,514.03 53.2,517.15 56.8,517.15" fill="#6fb67f" stroke="#2a8a46" stroke-width="0.9" stroke-linejoin="round"/>
<circle cx="70.1" cy="470.5" r="1.7" fill="none" stroke="#4f5fbf" stroke-width="0.9"/>
<circle cx="66.6" cy="482.6" r="1.7" fill="none" stroke="#4f5fbf" stroke-width="0.9"/>
<circle cx="73.8" cy="485" r="1.7" fill="none" stroke="#4f5fbf" stroke-width="0.9"/>
<circle cx="70.1" cy="504.9" r="1.7" fill="none" stroke="#4f5fbf" stroke-width="0.9"/>
<rect x="101.95" y="528.9" width="8.6" height="17.5" fill="#c9e9c2" stroke="#2a8a46" stroke-width="1.3"/>
<rect x="116.85" y="523.9" width="9.1" height="22.5" fill="#c9ccef" stroke="#4f5fbf" stroke-width="1.3"/>
<g stroke="#2a8a46" stroke-width="0.8">
<line x1="106.2" y1="521.5" x2="106.2" y2="533" stroke="#2a8a46" stroke-width="0.8"/>
<line x1="104.6" y1="521.5" x2="107.8" y2="521.5" stroke="#2a8a46" stroke-width="0.8"/>
<line x1="104.6" y1="533" x2="107.8" y2="533" stroke="#2a8a46" stroke-width="0.8"/>
</g>
<g stroke="#4f5fbf" stroke-width="0.8">
<line x1="121.4" y1="518.3" x2="121.4" y2="535.4" stroke="#4f5fbf" stroke-width="0.8"/>
<line x1="119.8" y1="518.3" x2="123" y2="518.3" stroke="#4f5fbf" stroke-width="0.8"/>
<line x1="119.8" y1="535.4" x2="123" y2="535.4" stroke="#4f5fbf" stroke-width="0.8"/>
</g>
<polygon points="106.2,519.73 104.4,522.85 108,522.85" fill="#6fb67f" stroke="#2a8a46" stroke-width="0.9" stroke-linejoin="round"/>
<polygon points="102.6,528.63 100.8,531.75 104.4,531.75" fill="#6fb67f" stroke="#2a8a46" stroke-width="0.9" stroke-linejoin="round"/>
<polygon points="105.8,529.33 104,532.45 107.6,532.45" fill="#6fb67f" stroke="#2a8a46" stroke-width="0.9" stroke-linejoin="round"/>
<polygon points="109.3,528.63 107.5,531.75 111.1,531.75" fill="#6fb67f" stroke="#2a8a46" stroke-width="0.9" stroke-linejoin="round"/>
<circle cx="121.3" cy="518.3" r="1.7" fill="none" stroke="#4f5fbf" stroke-width="0.9"/>
<circle cx="117.7" cy="524.6" r="1.7" fill="none" stroke="#4f5fbf" stroke-width="0.9"/>
<circle cx="125.2" cy="524.6" r="1.7" fill="none" stroke="#4f5fbf" stroke-width="0.9"/>
<circle cx="121.3" cy="535.4" r="1.7" fill="none" stroke="#4f5fbf" stroke-width="0.9"/>
<rect x="152.95" y="528.9" width="8.2" height="17.5" fill="#c9e9c2" stroke="#2a8a46" stroke-width="1.3"/>
<rect x="167.95" y="533.7" width="8.4" height="12.7" fill="#c9ccef" stroke="#4f5fbf" stroke-width="1.3"/>
<g stroke="#2a8a46" stroke-width="0.8">
<line x1="157.1" y1="522.5" x2="157.1" y2="534" stroke="#2a8a46" stroke-width="0.8"/>
<line x1="155.5" y1="522.5" x2="158.7" y2="522.5" stroke="#2a8a46" stroke-width="0.8"/>
<line x1="155.5" y1="534" x2="158.7" y2="534" stroke="#2a8a46" stroke-width="0.8"/>
</g>
<g stroke="#4f5fbf" stroke-width="0.8">
<line x1="172.2" y1="526" x2="172.2" y2="541" stroke="#4f5fbf" stroke-width="0.8"/>
<line x1="170.6" y1="526" x2="173.8" y2="526" stroke="#4f5fbf" stroke-width="0.8"/>
<line x1="170.6" y1="541" x2="173.8" y2="541" stroke="#4f5fbf" stroke-width="0.8"/>
</g>
<polygon points="157.2,520.43 155.4,523.55 159,523.55" fill="#6fb67f" stroke="#2a8a46" stroke-width="0.9" stroke-linejoin="round"/>
<polygon points="153.8,526.43 152,529.55 155.6,529.55" fill="#6fb67f" stroke="#2a8a46" stroke-width="0.9" stroke-linejoin="round"/>
<polygon points="155.8,529.33 154,532.45 157.6,532.45" fill="#6fb67f" stroke="#2a8a46" stroke-width="0.9" stroke-linejoin="round"/>
<polygon points="160,528.93 158.2,532.05 161.8,532.05" fill="#6fb67f" stroke="#2a8a46" stroke-width="0.9" stroke-linejoin="round"/>
<polygon points="158,524.13 156.2,527.25 159.8,527.25" fill="#6fb67f" stroke="#2a8a46" stroke-width="0.9" stroke-linejoin="round"/>
<circle cx="172.3" cy="524.3" r="1.7" fill="none" stroke="#4f5fbf" stroke-width="0.9"/>
<circle cx="172.3" cy="530.4" r="1.7" fill="none" stroke="#4f5fbf" stroke-width="0.9"/>
<circle cx="168.9" cy="538.1" r="1.7" fill="none" stroke="#4f5fbf" stroke-width="0.9"/>
<circle cx="175.7" cy="538.1" r="1.7" fill="none" stroke="#4f5fbf" stroke-width="0.9"/>
<polygon points="175,468.31 172.8,472.12 177.2,472.12" fill="#8fcf9a" stroke="#2a8a46" stroke-width="1.2" stroke-linejoin="round"/>
<text x="185" y="474" font-size="9.4" textLength="54.2" lengthAdjust="spacingAndGlyphs" fill="#333">Clone 4-RSR</text>
<circle cx="175" cy="485.4" r="1.8" fill="none" stroke="#4f5fbf" stroke-width="1"/>
<text x="185" y="488.7" font-size="9.4" textLength="53" lengthAdjust="spacingAndGlyphs" fill="#333">Clone 7-R2S</text>
<text x="259.8" y="444.6" font-size="12.2" font-weight="bold" textLength="8.2" lengthAdjust="spacingAndGlyphs" fill="#111">F</text>
<text x="331.2" y="446.2" font-size="7.9" font-weight="bold" text-anchor="middle" textLength="41.2" lengthAdjust="spacingAndGlyphs">Serum IFNγ</text>
<text x="331.2" y="454.8" font-size="7.9" font-weight="bold" text-anchor="middle" textLength="75.2" lengthAdjust="spacingAndGlyphs">(day 35 after implant)</text>
<line x1="301.2" y1="462" x2="301.2" y2="546.3" stroke="#777" stroke-width="0.9"/>
<line x1="300.8" y1="546" x2="361.6" y2="546" stroke="#888" stroke-width="1"/>
<line x1="299" y1="546" x2="301.2" y2="546" stroke="#777" stroke-width="0.8"/>
<text x="298.4" y="547.4" font-size="3.9" font-weight="bold" text-anchor="end" fill="#444">0</text>
<line x1="299" y1="529.2" x2="301.2" y2="529.2" stroke="#777" stroke-width="0.8"/>
<text x="298.4" y="530.6" font-size="3.9" font-weight="bold" text-anchor="end" fill="#444">2</text>
<line x1="299" y1="512.4" x2="301.2" y2="512.4" stroke="#777" stroke-width="0.8"/>
<text x="298.4" y="513.8" font-size="3.9" font-weight="bold" text-anchor="end" fill="#444">4</text>
<line x1="299" y1="495.6" x2="301.2" y2="495.6" stroke="#777" stroke-width="0.8"/>
<text x="298.4" y="497" font-size="3.9" font-weight="bold" text-anchor="end" fill="#444">6</text>
<line x1="299" y1="478.8" x2="301.2" y2="478.8" stroke="#777" stroke-width="0.8"/>
<text x="298.4" y="480.2" font-size="3.9" font-weight="bold" text-anchor="end" fill="#444">8</text>
<line x1="299" y1="462" x2="301.2" y2="462" stroke="#777" stroke-width="0.8"/>
<text x="298.4" y="463.4" font-size="3.9" font-weight="bold" text-anchor="end" fill="#444">10</text>
<text x="290.9" y="503.2" font-size="6.6" font-weight="bold" text-anchor="middle" textLength="19" lengthAdjust="spacingAndGlyphs" transform="rotate(-90 290.9 503.2)">pg/mL</text>
<rect x="310.9" y="494.1" width="15.4" height="51.9" fill="#c9e9c2" stroke="#2a8a46" stroke-width="1.2"/>
<line x1="318.6" y1="482.1" x2="318.6" y2="507.1" stroke="#8cc79a" stroke-width="0.7"/>
<polygon points="314.8,471.95 312.35,476.2 317.25,476.2" fill="none" stroke="#2a8a46" stroke-width="0.9" stroke-linejoin="round"/>
<polygon points="322.3,468.45 319.85,472.7 324.75,472.7" fill="none" stroke="#2a8a46" stroke-width="0.9" stroke-linejoin="round"/>
<polygon points="318.4,477.25 315.95,481.5 320.85,481.5" fill="none" stroke="#2a8a46" stroke-width="0.9" stroke-linejoin="round"/>
<polygon points="318.4,485.45 315.95,489.7 320.85,489.7" fill="none" stroke="#2a8a46" stroke-width="0.9" stroke-linejoin="round"/>
<polygon points="318.4,492.35 315.95,496.6 320.85,496.6" fill="none" stroke="#2a8a46" stroke-width="0.9" stroke-linejoin="round"/>
<polygon points="318.4,506.55 315.95,510.8 320.85,510.8" fill="none" stroke="#2a8a46" stroke-width="0.9" stroke-linejoin="round"/>
<polygon points="314.8,516.45 312.35,520.7 317.25,520.7" fill="none" stroke="#2a8a46" stroke-width="0.9" stroke-linejoin="round"/>
<polygon points="322.3,516.05 319.85,520.3 324.75,520.3" fill="none" stroke="#2a8a46" stroke-width="0.9" stroke-linejoin="round"/>
<g stroke="#4f5fbf" stroke-width="0.8">
<line x1="344.2" y1="536.2" x2="344.2" y2="546" stroke="#4f5fbf" stroke-width="0.8"/>
<line x1="340.2" y1="536.2" x2="348.2" y2="536.2" stroke="#4f5fbf" stroke-width="0.8"/>
<line x1="340.2" y1="546" x2="348.2" y2="546" stroke="#4f5fbf" stroke-width="0.8"/>
</g>
<circle cx="338.3" cy="545.5" r="2" fill="#c9ccef" stroke="#4f5fbf" stroke-width="0.9"/>
<circle cx="340.27" cy="545.5" r="2" fill="#c9ccef" stroke="#4f5fbf" stroke-width="0.9"/>
<circle cx="342.23" cy="545.5" r="2" fill="#c9ccef" stroke="#4f5fbf" stroke-width="0.9"/>
<circle cx="344.2" cy="545.5" r="2" fill="#c9ccef" stroke="#4f5fbf" stroke-width="0.9"/>
<circle cx="346.17" cy="545.5" r="2" fill="#c9ccef" stroke="#4f5fbf" stroke-width="0.9"/>
<circle cx="348.13" cy="545.5" r="2" fill="#c9ccef" stroke="#4f5fbf" stroke-width="0.9"/>
<circle cx="350.1" cy="545.5" r="2" fill="#c9ccef" stroke="#4f5fbf" stroke-width="0.9"/>
<circle cx="344" cy="525.6" r="2.2" fill="none" stroke="#4f5fbf" stroke-width="0.9"/>
<text x="424.6" y="443.6" font-size="7.9" font-weight="bold" text-anchor="middle" textLength="56.1" lengthAdjust="spacingAndGlyphs">Serum GM-CSF</text>
<text x="424.6" y="452.1" font-size="7.9" font-weight="bold" text-anchor="middle" textLength="76.7" lengthAdjust="spacingAndGlyphs">(day 35 after implant)</text>
<line x1="394.3" y1="459.6" x2="394.3" y2="546.3" stroke="#777" stroke-width="0.9"/>
<line x1="393.9" y1="546" x2="455.8" y2="546" stroke="#888" stroke-width="1"/>
<line x1="392.1" y1="546" x2="394.3" y2="546" stroke="#777" stroke-width="0.8"/>
<text x="391.5" y="547.4" font-size="3.9" font-weight="bold" text-anchor="end" fill="#444">0</text>
<line x1="392.1" y1="528.72" x2="394.3" y2="528.72" stroke="#777" stroke-width="0.8"/>
<text x="391.5" y="530.12" font-size="3.9" font-weight="bold" text-anchor="end" fill="#444">2</text>
<line x1="392.1" y1="511.44" x2="394.3" y2="511.44" stroke="#777" stroke-width="0.8"/>
<text x="391.5" y="512.84" font-size="3.9" font-weight="bold" text-anchor="end" fill="#444">4</text>
<line x1="392.1" y1="494.16" x2="394.3" y2="494.16" stroke="#777" stroke-width="0.8"/>
<text x="391.5" y="495.56" font-size="3.9" font-weight="bold" text-anchor="end" fill="#444">6</text>
<line x1="392.1" y1="476.88" x2="394.3" y2="476.88" stroke="#777" stroke-width="0.8"/>
<text x="391.5" y="478.28" font-size="3.9" font-weight="bold" text-anchor="end" fill="#444">8</text>
<line x1="392.1" y1="459.6" x2="394.3" y2="459.6" stroke="#777" stroke-width="0.8"/>
<text x="391.5" y="461" font-size="3.9" font-weight="bold" text-anchor="end" fill="#444">10</text>
<text x="384" y="503.2" font-size="6.6" font-weight="bold" text-anchor="middle" textLength="19" lengthAdjust="spacingAndGlyphs" transform="rotate(-90 384 503.2)">pg/mL</text>
<rect x="403.8" y="498.8" width="16.1" height="47.2" fill="#c9e9c2" stroke="#2a8a46" stroke-width="1.2"/>
<line x1="411.85" y1="486.8" x2="411.85" y2="511.8" stroke="#8cc79a" stroke-width="0.7"/>
<polygon points="411.6,472.15 409.15,476.4 414.05,476.4" fill="none" stroke="#2a8a46" stroke-width="0.9" stroke-linejoin="round"/>
<polygon points="407.7,484.35 405.25,488.6 410.15,488.6" fill="none" stroke="#2a8a46" stroke-width="0.9" stroke-linejoin="round"/>
<polygon points="415.3,483.65 412.85,487.9 417.75,487.9" fill="none" stroke="#2a8a46" stroke-width="0.9" stroke-linejoin="round"/>
<polygon points="412,494.85 409.55,499.1 414.45,499.1" fill="none" stroke="#2a8a46" stroke-width="0.9" stroke-linejoin="round"/>
<polygon points="407.8,505.95 405.35,510.2 410.25,510.2" fill="none" stroke="#2a8a46" stroke-width="0.9" stroke-linejoin="round"/>
<polygon points="415.9,504.05 413.45,508.3 418.35,508.3" fill="none" stroke="#2a8a46" stroke-width="0.9" stroke-linejoin="round"/>
<polygon points="415.4,508.65 412.95,512.9 417.85,512.9" fill="none" stroke="#2a8a46" stroke-width="0.9" stroke-linejoin="round"/>
<polygon points="412,514.45 409.55,518.7 414.45,518.7" fill="none" stroke="#2a8a46" stroke-width="0.9" stroke-linejoin="round"/>
<circle cx="431.4" cy="545.5" r="2" fill="#c9ccef" stroke="#4f5fbf" stroke-width="0.9"/>
<circle cx="433.58" cy="545.5" r="2" fill="#c9ccef" stroke="#4f5fbf" stroke-width="0.9"/>
<circle cx="435.77" cy="545.5" r="2" fill="#c9ccef" stroke="#4f5fbf" stroke-width="0.9"/>
<circle cx="437.95" cy="545.5" r="2" fill="#c9ccef" stroke="#4f5fbf" stroke-width="0.9"/>
<circle cx="440.13" cy="545.5" r="2" fill="#c9ccef" stroke="#4f5fbf" stroke-width="0.9"/>
<circle cx="442.32" cy="545.5" r="2" fill="#c9ccef" stroke="#4f5fbf" stroke-width="0.9"/>
<circle cx="444.5" cy="545.5" r="2" fill="#c9ccef" stroke="#4f5fbf" stroke-width="0.9"/>
<circle cx="438.5" cy="541.3" r="2.2" fill="none" stroke="#4f5fbf" stroke-width="0.9"/>
<text x="321.6" y="553.6" font-size="7" font-weight="bold" text-anchor="end" textLength="42.2" lengthAdjust="spacingAndGlyphs" transform="rotate(-45 321.6 553.6)">Clone 4-RSR</text>
<text x="346.4" y="553.6" font-size="7" font-weight="bold" text-anchor="end" textLength="42.2" lengthAdjust="spacingAndGlyphs" transform="rotate(-45 346.4 553.6)">Clone 7-R2S</text>
<text x="414.6" y="552.8" font-size="7" font-weight="bold" text-anchor="end" textLength="42.6" lengthAdjust="spacingAndGlyphs" transform="rotate(-45 414.6 552.8)">Clone 4-RSR</text>
<text x="439.6" y="553.4" font-size="7" font-weight="bold" text-anchor="end" textLength="43.4" lengthAdjust="spacingAndGlyphs" transform="rotate(-45 439.6 553.4)">Clone 7 -R2S</text>
</svg>
</body></html>
